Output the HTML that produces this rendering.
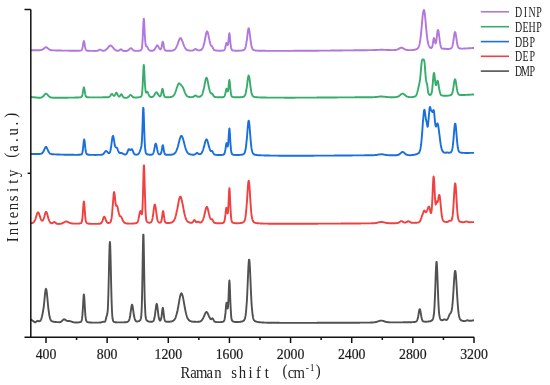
<!DOCTYPE html>
<html><head><meta charset="utf-8"><style>
html,body{margin:0;padding:0;background:#fff;}
svg{display:block;}
.tick{font-family:"Liberation Serif",serif;font-size:13.8px;fill:#1a1a1a;stroke:#1a1a1a;stroke-width:0.2px;text-anchor:middle;}
.leg{font-family:"Liberation Serif",serif;font-size:13.5px;fill:#222;}
.ttl{font-family:"Liberation Serif",serif;font-size:15.5px;fill:#222;}
</style></head><body>
<svg width="550" height="385" viewBox="0 0 550 385">
<rect width="550" height="385" fill="#fff"/>
<polyline fill="none" stroke="#515151" stroke-width="1.9" stroke-linejoin="round" points="30.7,319.4 31.0,319.6 31.3,319.8 31.6,320.0 31.9,320.3 32.2,320.5 32.5,320.7 32.9,320.9 33.2,321.1 33.5,321.3 33.8,321.5 34.1,321.8 34.4,322.0 34.7,322.2 35.0,322.4 35.3,322.4 35.6,322.2 35.9,321.9 36.2,321.7 36.5,321.5 36.8,321.2 37.1,321.0 37.4,320.8 37.7,320.9 38.1,321.0 38.4,321.1 38.7,321.2 39.0,321.3 39.3,321.4 39.6,321.2 39.9,321.1 40.2,320.8 40.5,320.5 40.8,320.0 41.1,319.3 41.4,318.5 41.7,317.4 42.0,316.3 42.3,315.0 42.6,313.6 42.9,312.1 43.2,310.2 43.6,308.0 43.9,305.4 44.2,302.4 44.5,299.3 44.8,296.1 45.1,293.2 45.4,290.9 45.7,289.3 46.0,288.8 46.3,289.4 46.6,290.9 46.9,293.3 47.2,296.3 47.5,299.5 47.8,302.8 48.1,306.0 48.4,309.0 48.8,311.6 49.1,313.8 49.4,315.6 49.7,317.1 50.0,318.3 50.3,319.2 50.6,319.8 50.9,320.3 51.2,320.7 51.5,321.0 51.8,321.2 52.1,321.3 52.4,321.4 52.7,321.5 53.0,321.6 53.3,321.7 53.6,321.8 53.9,321.8 54.3,321.8 54.6,321.9 54.9,321.9 55.2,322.0 55.5,322.0 55.8,322.0 56.1,322.0 56.4,322.1 56.7,322.1 57.0,322.1 57.3,322.1 57.6,322.1 57.9,322.1 58.2,322.1 58.5,322.1 58.8,322.2 59.1,322.2 59.5,322.2 59.8,322.1 60.1,322.1 60.4,322.0 60.7,321.9 61.0,321.8 61.3,321.6 61.6,321.3 61.9,321.0 62.2,320.7 62.5,320.4 62.8,320.1 63.1,319.8 63.4,319.6 63.7,319.4 64.0,319.3 64.3,319.3 64.6,319.4 65.0,319.6 65.3,319.8 65.6,320.0 65.9,320.2 66.2,320.5 66.5,320.6 66.8,320.8 67.1,320.9 67.4,320.9 67.7,321.0 68.0,321.0 68.3,321.0 68.6,321.0 68.9,321.0 69.2,321.0 69.5,321.0 69.8,321.1 70.2,321.2 70.5,321.3 70.8,321.4 71.1,321.5 71.4,321.6 71.7,321.7 72.0,321.8 72.3,321.9 72.6,322.0 72.9,322.1 73.2,322.2 73.5,322.3 73.8,322.3 74.1,322.4 74.4,322.4 74.7,322.4 75.0,322.5 75.3,322.5 75.7,322.5 76.0,322.5 76.3,322.5 76.6,322.5 76.9,322.5 77.2,322.5 77.5,322.5 77.8,322.5 78.1,322.4 78.4,322.4 78.7,322.4 79.0,322.3 79.3,322.3 79.6,322.2 79.9,322.2 80.2,322.1 80.5,322.0 80.9,321.8 81.2,321.5 81.5,320.9 81.8,320.0 82.1,318.2 82.4,315.4 82.7,311.4 83.0,306.2 83.3,300.7 83.6,296.2 83.9,294.4 84.2,296.2 84.5,300.7 84.8,306.2 85.1,311.4 85.4,315.4 85.7,318.2 86.0,320.0 86.4,320.9 86.7,321.5 87.0,321.8 87.3,322.0 87.6,322.1 87.9,322.2 88.2,322.2 88.5,322.3 88.8,322.4 89.1,322.4 89.4,322.4 89.7,322.5 90.0,322.5 90.3,322.5 90.6,322.5 90.9,322.5 91.2,322.5 91.6,322.6 91.9,322.6 92.2,322.6 92.5,322.6 92.8,322.6 93.1,322.6 93.4,322.6 93.7,322.6 94.0,322.6 94.3,322.6 94.6,322.6 94.9,322.6 95.2,322.6 95.5,322.6 95.8,322.6 96.1,322.6 96.4,322.6 96.7,322.6 97.1,322.6 97.4,322.6 97.7,322.6 98.0,322.6 98.3,322.6 98.6,322.6 98.9,322.6 99.2,322.6 99.5,322.5 99.8,322.5 100.1,322.5 100.4,322.5 100.7,322.5 101.0,322.4 101.3,322.3 101.6,322.2 101.9,322.1 102.3,322.0 102.6,321.9 102.9,321.8 103.2,321.8 103.5,321.8 103.8,321.9 104.1,321.9 104.4,321.9 104.7,321.8 105.0,321.6 105.3,321.1 105.6,320.3 105.9,319.1 106.2,317.7 106.5,316.5 106.8,315.6 107.1,314.9 107.4,313.3 107.8,309.6 108.1,303.1 108.4,293.5 108.7,281.2 109.0,267.5 109.3,254.7 109.6,245.3 109.9,241.9 110.2,245.4 110.5,254.7 110.8,267.6 111.1,281.4 111.4,294.0 111.7,304.1 112.0,311.3 112.3,316.0 112.6,318.8 113.0,320.4 113.3,321.2 113.6,321.6 113.9,321.9 114.2,322.0 114.5,322.1 114.8,322.1 115.1,322.2 115.4,322.2 115.7,322.3 116.0,322.3 116.3,322.3 116.6,322.3 116.9,322.4 117.2,322.4 117.5,322.4 117.8,322.4 118.1,322.4 118.5,322.4 118.8,322.4 119.1,322.4 119.4,322.4 119.7,322.4 120.0,322.4 120.3,322.4 120.6,322.4 120.9,322.4 121.2,322.4 121.5,322.4 121.8,322.4 122.1,322.4 122.4,322.4 122.7,322.4 123.0,322.4 123.3,322.4 123.7,322.4 124.0,322.4 124.3,322.3 124.6,322.3 124.9,322.3 125.2,322.3 125.5,322.2 125.8,322.2 126.1,322.2 126.4,322.1 126.7,322.1 127.0,322.0 127.3,321.9 127.6,321.8 127.9,321.7 128.2,321.4 128.5,321.1 128.8,320.6 129.2,319.9 129.5,318.9 129.8,317.6 130.1,316.0 130.4,314.0 130.7,311.8 131.0,309.6 131.3,307.5 131.6,305.8 131.9,304.8 132.2,304.8 132.5,305.7 132.8,307.4 133.1,309.5 133.4,311.7 133.7,313.9 134.0,315.8 134.4,317.4 134.7,318.7 135.0,319.7 135.3,320.3 135.6,320.8 135.9,321.1 136.2,321.3 136.5,321.4 136.8,321.5 137.1,321.5 137.4,321.5 137.7,321.4 138.0,321.4 138.3,321.3 138.6,321.2 138.9,321.1 139.2,321.0 139.5,320.8 139.9,320.5 140.2,320.2 140.5,319.7 140.8,318.8 141.1,317.3 141.4,314.3 141.7,308.6 142.0,298.8 142.3,284.3 142.6,265.9 142.9,247.3 143.2,234.8 143.5,234.8 143.8,247.3 144.1,265.9 144.4,284.3 144.7,298.8 145.1,308.6 145.4,314.3 145.7,317.3 146.0,318.8 146.3,319.7 146.6,320.2 146.9,320.5 147.2,320.8 147.5,321.0 147.8,321.2 148.1,321.3 148.4,321.4 148.7,321.5 149.0,321.6 149.3,321.6 149.6,321.7 149.9,321.7 150.2,321.7 150.6,321.7 150.9,321.7 151.2,321.7 151.5,321.7 151.8,321.7 152.1,321.7 152.4,321.6 152.7,321.5 153.0,321.3 153.3,321.1 153.6,320.7 153.9,320.0 154.2,319.1 154.5,317.8 154.8,316.0 155.1,313.8 155.4,311.3 155.8,308.6 156.1,306.2 156.4,304.4 156.7,303.8 157.0,304.4 157.3,306.2 157.6,308.5 157.9,311.2 158.2,313.7 158.5,315.9 158.8,317.6 159.1,318.9 159.4,319.8 159.7,320.3 160.0,320.6 160.3,320.6 160.6,320.2 160.9,319.5 161.3,318.1 161.6,316.2 161.9,313.6 162.2,310.9 162.5,308.7 162.8,307.8 163.1,308.7 163.4,311.0 163.7,313.8 164.0,316.3 164.3,318.4 164.6,319.8 164.9,320.7 165.2,321.1 165.5,321.4 165.8,321.6 166.1,321.6 166.5,321.7 166.8,321.7 167.1,321.8 167.4,321.8 167.7,321.8 168.0,321.8 168.3,321.8 168.6,321.8 168.9,321.8 169.2,321.7 169.5,321.7 169.8,321.7 170.1,321.7 170.4,321.6 170.7,321.6 171.0,321.5 171.3,321.5 171.6,321.4 172.0,321.3 172.3,321.2 172.6,321.1 172.9,321.0 173.2,320.8 173.5,320.6 173.8,320.3 174.1,320.0 174.4,319.7 174.7,319.2 175.0,318.7 175.3,318.1 175.6,317.4 175.9,316.6 176.2,315.6 176.5,314.6 176.8,313.4 177.2,312.1 177.5,310.7 177.8,309.1 178.1,307.5 178.4,305.8 178.7,304.0 179.0,302.3 179.3,300.6 179.6,298.9 179.9,297.4 180.2,296.0 180.5,294.9 180.8,294.0 181.1,293.5 181.4,293.3 181.7,293.5 182.0,294.0 182.3,294.9 182.7,296.0 183.0,297.4 183.3,298.9 183.6,300.6 183.9,302.3 184.2,304.0 184.5,305.8 184.8,307.5 185.1,309.1 185.4,310.6 185.7,312.1 186.0,313.4 186.3,314.6 186.6,315.6 186.9,316.6 187.2,317.4 187.5,318.1 187.9,318.7 188.2,319.2 188.5,319.7 188.8,320.0 189.1,320.3 189.4,320.6 189.7,320.8 190.0,321.0 190.3,321.1 190.6,321.2 190.9,321.3 191.2,321.4 191.5,321.5 191.8,321.5 192.1,321.6 192.4,321.6 192.7,321.7 193.0,321.7 193.4,321.7 193.7,321.7 194.0,321.8 194.3,321.8 194.6,321.8 194.9,321.8 195.2,321.8 195.5,321.8 195.8,321.8 196.1,321.9 196.4,321.9 196.7,321.9 197.0,321.9 197.3,321.9 197.6,321.8 197.9,321.8 198.2,321.8 198.6,321.8 198.9,321.8 199.2,321.7 199.5,321.7 199.8,321.6 200.1,321.5 200.4,321.4 200.7,321.2 201.0,321.0 201.3,320.8 201.6,320.5 201.9,320.2 202.2,319.8 202.5,319.3 202.8,318.8 203.1,318.2 203.4,317.6 203.7,316.9 204.1,316.2 204.4,315.4 204.7,314.7 205.0,314.0 205.3,313.3 205.6,312.8 205.9,312.4 206.2,312.1 206.5,312.0 206.8,312.1 207.1,312.4 207.4,312.8 207.7,313.3 208.0,314.0 208.3,314.7 208.6,315.4 208.9,316.1 209.3,316.9 209.6,317.5 209.9,318.1 210.2,318.6 210.5,319.0 210.8,319.2 211.1,319.3 211.4,319.2 211.7,318.9 212.0,318.6 212.3,318.3 212.6,318.3 212.9,318.6 213.2,319.2 213.5,319.8 213.8,320.4 214.1,321.0 214.4,321.4 214.8,321.6 215.1,321.8 215.4,321.9 215.7,322.0 216.0,322.0 216.3,322.1 216.6,322.1 216.9,322.1 217.2,322.1 217.5,322.1 217.8,322.1 218.1,322.1 218.4,322.1 218.7,322.1 219.0,322.1 219.3,322.1 219.6,322.1 220.0,322.1 220.3,322.1 220.6,322.1 220.9,322.1 221.2,322.0 221.5,322.0 221.8,322.0 222.1,321.9 222.4,321.9 222.7,321.8 223.0,321.7 223.3,321.6 223.6,321.4 223.9,321.1 224.2,320.6 224.5,319.7 224.8,318.2 225.1,315.8 225.5,312.7 225.8,309.0 226.1,305.4 226.4,303.0 226.7,302.7 227.0,304.4 227.3,306.8 227.6,308.5 227.9,308.0 228.2,304.7 228.5,298.4 228.8,290.4 229.1,283.3 229.4,280.4 229.7,283.7 230.0,291.4 230.3,300.3 230.7,308.1 231.0,313.8 231.3,317.3 231.6,319.3 231.9,320.3 232.2,320.8 232.5,321.1 232.8,321.3 233.1,321.5 233.4,321.6 233.7,321.7 234.0,321.8 234.3,321.8 234.6,321.9 234.9,321.9 235.2,322.0 235.5,322.0 235.8,322.0 236.2,322.0 236.5,322.0 236.8,322.0 237.1,322.0 237.4,322.0 237.7,322.0 238.0,322.0 238.3,322.0 238.6,322.0 238.9,322.0 239.2,321.9 239.5,321.9 239.8,321.9 240.1,321.8 240.4,321.8 240.7,321.8 241.0,321.7 241.4,321.6 241.7,321.6 242.0,321.5 242.3,321.4 242.6,321.3 242.9,321.2 243.2,321.0 243.5,320.8 243.8,320.6 244.1,320.3 244.4,319.8 244.7,319.2 245.0,318.4 245.3,317.1 245.6,315.4 245.9,313.0 246.2,309.8 246.5,305.8 246.9,300.7 247.2,294.7 247.5,288.0 247.8,280.9 248.1,273.8 248.4,267.4 248.7,262.5 249.0,259.7 249.3,259.8 249.6,262.5 249.9,267.4 250.2,273.8 250.5,280.9 250.8,288.1 251.1,294.8 251.4,300.8 251.7,305.8 252.1,309.9 252.4,313.1 252.7,315.5 253.0,317.2 253.3,318.5 253.6,319.3 253.9,319.9 254.2,320.4 254.5,320.7 254.8,321.0 255.1,321.1 255.4,321.3 255.7,321.4 256.0,321.5 256.3,321.6 256.6,321.7 256.9,321.8 257.2,321.9 257.6,322.0 257.9,322.0 258.2,322.1 258.5,322.1 258.8,322.2 259.1,322.2 259.4,322.2 259.7,322.3 260.0,322.3 260.3,322.3 260.6,322.4 260.9,322.4 261.2,322.4 261.5,322.4 261.8,322.4 262.1,322.5 262.4,322.5 262.8,322.5 263.1,322.5 263.4,322.5 263.7,322.5 264.0,322.6 264.3,322.6 264.6,322.6 264.9,322.6 265.2,322.6 265.5,322.6 265.8,322.6 266.1,322.6 266.4,322.6 266.7,322.7 267.0,322.7 267.3,322.7 267.6,322.7 267.9,322.7 268.3,322.7 268.6,322.7 268.9,322.7 269.2,322.7 269.5,322.7 269.8,322.7 270.1,322.7 270.4,322.7 270.7,322.7 271.0,322.7 271.3,322.8 271.6,322.8 271.9,322.8 272.2,322.8 272.5,322.8 272.8,322.8 273.1,322.8 273.5,322.8 273.8,322.8 274.1,322.8 274.4,322.8 274.7,322.8 275.0,322.8 275.3,322.8 275.6,322.8 275.9,322.8 276.2,322.8 276.5,322.8 276.8,322.8 277.1,322.8 277.4,322.8 277.7,322.8 278.0,322.8 278.3,322.8 278.6,322.8 279.0,322.8 279.3,322.8 279.6,322.9 279.9,322.9 280.2,322.9 280.5,322.9 280.8,322.9 281.1,322.9 281.4,322.9 281.7,322.9 282.0,322.9 282.3,322.9 282.6,322.9 282.9,322.9 283.2,322.9 283.5,322.9 283.8,322.9 284.2,322.9 284.5,322.9 284.8,322.9 285.1,322.9 285.4,322.9 285.7,322.9 286.0,322.9 286.3,322.9 286.6,322.9 286.9,322.9 287.2,322.9 287.5,322.9 287.8,322.9 288.1,322.9 288.4,322.9 288.7,322.9 289.0,322.9 289.3,322.9 289.7,322.9 290.0,322.9 290.3,322.9 290.6,322.9 290.9,322.9 291.2,322.9 291.5,322.9 291.8,322.9 292.1,322.9 292.4,322.9 292.7,322.9 293.0,322.9 293.3,322.9 293.6,322.9 293.9,322.9 294.2,322.9 294.5,322.9 294.9,322.9 295.2,322.9 295.5,322.9 295.8,322.9 296.1,322.9 296.4,322.9 296.7,322.9 297.0,322.9 297.3,322.9 297.6,322.9 297.9,322.9 298.2,322.9 298.5,322.9 298.8,322.9 299.1,322.9 299.4,322.9 299.7,322.9 300.0,322.9 300.4,322.9 300.7,322.9 301.0,322.9 301.3,322.9 301.6,322.9 301.9,322.9 302.2,322.9 302.5,322.9 302.8,322.9 303.1,322.9 303.4,322.9 303.7,322.9 304.0,322.9 304.3,322.9 304.6,322.9 304.9,322.9 305.2,322.9 305.6,322.9 305.9,322.9 306.2,322.9 306.5,322.9 306.8,322.9 307.1,322.9 307.4,322.9 307.7,322.9 308.0,322.9 308.3,322.9 308.6,322.9 308.9,322.9 309.2,322.9 309.5,322.9 309.8,322.9 310.1,322.9 310.4,322.9 310.7,322.9 311.1,322.9 311.4,322.9 311.7,322.9 312.0,322.9 312.3,322.9 312.6,322.9 312.9,322.9 313.2,322.9 313.5,322.9 313.8,322.9 314.1,322.9 314.4,322.9 314.7,322.9 315.0,322.9 315.3,322.9 315.6,322.9 315.9,322.9 316.3,322.9 316.6,322.9 316.9,322.8 317.2,322.8 317.5,322.8 317.8,322.8 318.1,322.8 318.4,322.8 318.7,322.8 319.0,322.8 319.3,322.8 319.6,322.8 319.9,322.8 320.2,322.8 320.5,322.8 320.8,322.8 321.1,322.8 321.4,322.8 321.8,322.8 322.1,322.8 322.4,322.8 322.7,322.8 323.0,322.8 323.3,322.8 323.6,322.8 323.9,322.8 324.2,322.8 324.5,322.8 324.8,322.8 325.1,322.8 325.4,322.8 325.7,322.8 326.0,322.8 326.3,322.8 326.6,322.8 327.0,322.8 327.3,322.8 327.6,322.8 327.9,322.8 328.2,322.8 328.5,322.8 328.8,322.8 329.1,322.8 329.4,322.8 329.7,322.8 330.0,322.8 330.3,322.8 330.6,322.8 330.9,322.8 331.2,322.8 331.5,322.8 331.8,322.8 332.1,322.8 332.5,322.8 332.8,322.8 333.1,322.8 333.4,322.8 333.7,322.8 334.0,322.8 334.3,322.8 334.6,322.8 334.9,322.8 335.2,322.8 335.5,322.8 335.8,322.8 336.1,322.8 336.4,322.8 336.7,322.8 337.0,322.8 337.3,322.8 337.7,322.8 338.0,322.8 338.3,322.8 338.6,322.8 338.9,322.8 339.2,322.8 339.5,322.8 339.8,322.8 340.1,322.8 340.4,322.7 340.7,322.7 341.0,322.7 341.3,322.7 341.6,322.7 341.9,322.7 342.2,322.7 342.5,322.7 342.8,322.7 343.2,322.7 343.5,322.7 343.8,322.7 344.1,322.7 344.4,322.7 344.7,322.7 345.0,322.7 345.3,322.7 345.6,322.7 345.9,322.7 346.2,322.7 346.5,322.7 346.8,322.7 347.1,322.7 347.4,322.7 347.7,322.7 348.0,322.7 348.4,322.7 348.7,322.7 349.0,322.7 349.3,322.7 349.6,322.7 349.9,322.7 350.2,322.7 350.5,322.7 350.8,322.7 351.1,322.7 351.4,322.7 351.7,322.7 352.0,322.7 352.3,322.7 352.6,322.7 352.9,322.7 353.2,322.7 353.5,322.7 353.9,322.7 354.2,322.7 354.5,322.7 354.8,322.7 355.1,322.7 355.4,322.7 355.7,322.7 356.0,322.7 356.3,322.7 356.6,322.7 356.9,322.7 357.2,322.7 357.5,322.7 357.8,322.7 358.1,322.7 358.4,322.7 358.7,322.7 359.1,322.7 359.4,322.7 359.7,322.7 360.0,322.6 360.3,322.6 360.6,322.6 360.9,322.6 361.2,322.6 361.5,322.6 361.8,322.6 362.1,322.6 362.4,322.6 362.7,322.6 363.0,322.6 363.3,322.6 363.6,322.6 363.9,322.6 364.2,322.6 364.6,322.6 364.9,322.6 365.2,322.6 365.5,322.6 365.8,322.6 366.1,322.6 366.4,322.6 366.7,322.6 367.0,322.6 367.3,322.6 367.6,322.6 367.9,322.6 368.2,322.6 368.5,322.6 368.8,322.6 369.1,322.6 369.4,322.6 369.8,322.6 370.1,322.6 370.4,322.5 370.7,322.5 371.0,322.5 371.3,322.5 371.6,322.5 371.9,322.5 372.2,322.5 372.5,322.5 372.8,322.5 373.1,322.4 373.4,322.4 373.7,322.4 374.0,322.4 374.3,322.3 374.6,322.3 374.9,322.2 375.3,322.2 375.6,322.1 375.9,322.0 376.2,322.0 376.5,321.9 376.8,321.8 377.1,321.7 377.4,321.6 377.7,321.5 378.0,321.4 378.3,321.3 378.6,321.2 378.9,321.1 379.2,321.0 379.5,320.9 379.8,320.8 380.1,320.7 380.5,320.7 380.8,320.6 381.1,320.6 381.4,320.6 381.7,320.6 382.0,320.7 382.3,320.7 382.6,320.8 382.9,320.9 383.2,320.9 383.5,321.0 383.8,321.1 384.1,321.2 384.4,321.4 384.7,321.5 385.0,321.6 385.3,321.7 385.6,321.7 386.0,321.8 386.3,321.9 386.6,322.0 386.9,322.0 387.2,322.1 387.5,322.1 387.8,322.2 388.1,322.2 388.4,322.3 388.7,322.3 389.0,322.3 389.3,322.3 389.6,322.4 389.9,322.4 390.2,322.4 390.5,322.4 390.8,322.4 391.2,322.4 391.5,322.4 391.8,322.4 392.1,322.4 392.4,322.4 392.7,322.4 393.0,322.4 393.3,322.4 393.6,322.4 393.9,322.4 394.2,322.4 394.5,322.4 394.8,322.4 395.1,322.4 395.4,322.4 395.7,322.4 396.0,322.4 396.3,322.4 396.7,322.4 397.0,322.4 397.3,322.4 397.6,322.4 397.9,322.4 398.2,322.4 398.5,322.4 398.8,322.4 399.1,322.4 399.4,322.4 399.7,322.4 400.0,322.4 400.3,322.4 400.6,322.4 400.9,322.4 401.2,322.4 401.5,322.4 401.9,322.4 402.2,322.4 402.5,322.4 402.8,322.4 403.1,322.4 403.4,322.3 403.7,322.3 404.0,322.3 404.3,322.3 404.6,322.3 404.9,322.3 405.2,322.3 405.5,322.3 405.8,322.3 406.1,322.3 406.4,322.3 406.7,322.3 407.0,322.3 407.4,322.3 407.7,322.3 408.0,322.3 408.3,322.3 408.6,322.3 408.9,322.3 409.2,322.3 409.5,322.2 409.8,322.2 410.1,322.2 410.4,322.2 410.7,322.2 411.0,322.2 411.3,322.2 411.6,322.2 411.9,322.2 412.2,322.1 412.6,322.1 412.9,322.1 413.2,322.1 413.5,322.1 413.8,322.0 414.1,322.0 414.4,322.0 414.7,322.0 415.0,321.9 415.3,321.9 415.6,321.8 415.9,321.7 416.2,321.5 416.5,321.3 416.8,320.9 417.1,320.3 417.4,319.5 417.7,318.4 418.1,317.0 418.4,315.3 418.7,313.4 419.0,311.5 419.3,310.0 419.6,309.1 419.9,309.1 420.2,310.0 420.5,311.5 420.8,313.3 421.1,315.2 421.4,316.9 421.7,318.3 422.0,319.4 422.3,320.2 422.6,320.8 422.9,321.1 423.3,321.3 423.6,321.5 423.9,321.6 424.2,321.6 424.5,321.6 424.8,321.7 425.1,321.7 425.4,321.7 425.7,321.7 426.0,321.7 426.3,321.7 426.6,321.7 426.9,321.6 427.2,321.6 427.5,321.6 427.8,321.6 428.1,321.6 428.4,321.5 428.8,321.5 429.1,321.4 429.4,321.4 429.7,321.3 430.0,321.2 430.3,321.2 430.6,321.1 430.9,321.0 431.2,320.8 431.5,320.7 431.8,320.5 432.1,320.3 432.4,320.0 432.7,319.5 433.0,318.8 433.3,317.7 433.6,316.0 434.0,313.5 434.3,309.7 434.6,304.6 434.9,298.1 435.2,290.2 435.5,281.6 435.8,273.1 436.1,266.1 436.4,262.0 436.7,262.0 437.0,266.1 437.3,273.1 437.6,281.5 437.9,290.1 438.2,298.0 438.5,304.5 438.8,309.6 439.1,313.3 439.5,315.8 439.8,317.5 440.1,318.6 440.4,319.2 440.7,319.7 441.0,319.9 441.3,320.1 441.6,320.2 441.9,320.3 442.2,320.3 442.5,320.2 442.8,320.1 443.1,319.9 443.4,319.7 443.7,319.6 444.0,319.5 444.3,319.4 444.7,319.4 445.0,319.6 445.3,319.7 445.6,319.8 445.9,319.9 446.2,320.0 446.5,319.9 446.8,319.8 447.1,319.6 447.4,319.2 447.7,318.7 448.0,318.2 448.3,317.5 448.6,316.8 448.9,316.0 449.2,315.3 449.5,314.6 449.8,314.0 450.2,313.5 450.5,313.1 450.8,312.7 451.1,312.2 451.4,311.4 451.7,310.2 452.0,308.5 452.3,306.2 452.6,303.1 452.9,299.4 453.2,295.0 453.5,290.2 453.8,285.1 454.1,280.3 454.4,276.0 454.7,272.7 455.0,271.0 455.4,271.1 455.7,272.9 456.0,276.2 456.3,280.7 456.6,285.7 456.9,291.0 457.2,296.1 457.5,300.8 457.8,305.0 458.1,308.6 458.4,311.5 458.7,313.9 459.0,315.7 459.3,317.1 459.6,318.1 459.9,318.8 460.2,319.4 460.5,319.8 460.9,320.0 461.2,320.3 461.5,320.4 461.8,320.6 462.1,320.7 462.4,320.8 462.7,320.9 463.0,320.9 463.3,321.0 463.6,321.0 463.9,321.1 464.2,321.1 464.5,321.1 464.8,321.1 465.1,321.0 465.4,320.9 465.7,320.8 466.1,320.7 466.4,320.6 466.7,320.4 467.0,320.3 467.3,320.3 467.6,320.3 467.9,320.4 468.2,320.5 468.5,320.6 468.8,320.7 469.1,320.8 469.4,320.8 469.7,320.8 470.0,320.8 470.3,320.8 470.6,320.8 470.9,320.8 471.2,320.7 471.6,320.7 471.9,320.6 472.2,320.6 472.5,320.5 472.8,320.5 473.1,320.4 473.4,320.4 473.7,320.3 474.0,320.3"/>
<polyline fill="none" stroke="#F14040" stroke-width="1.9" stroke-linejoin="round" points="30.7,223.2 31.0,223.2 31.3,223.2 31.6,223.1 31.9,223.1 32.2,223.0 32.5,222.9 32.9,222.8 33.2,222.6 33.5,222.4 33.8,222.1 34.1,221.7 34.4,221.3 34.7,220.7 35.0,220.1 35.3,219.3 35.6,218.5 35.9,217.5 36.2,216.5 36.5,215.5 36.8,214.6 37.1,213.7 37.4,213.0 37.7,212.6 38.1,212.4 38.4,212.5 38.7,213.0 39.0,213.6 39.3,214.5 39.6,215.4 39.9,216.4 40.2,217.3 40.5,218.2 40.8,219.0 41.1,219.7 41.4,220.2 41.7,220.5 42.0,220.7 42.3,220.7 42.6,220.6 42.9,220.2 43.2,219.7 43.6,218.9 43.9,218.1 44.2,217.1 44.5,216.0 44.8,214.9 45.1,213.8 45.4,212.9 45.7,212.2 46.0,211.8 46.3,211.9 46.6,212.3 46.9,213.0 47.2,214.0 47.5,215.1 47.8,216.3 48.1,217.4 48.4,218.5 48.8,219.5 49.1,220.4 49.4,221.1 49.7,221.7 50.0,222.2 50.3,222.6 50.6,222.8 50.9,223.0 51.2,223.2 51.5,223.3 51.8,223.3 52.1,223.3 52.4,223.2 52.7,223.0 53.0,222.8 53.3,222.6 53.6,222.3 53.9,222.1 54.3,222.0 54.6,222.0 54.9,222.2 55.2,222.5 55.5,222.7 55.8,223.0 56.1,223.3 56.4,223.5 56.7,223.7 57.0,223.8 57.3,223.9 57.6,223.9 57.9,223.9 58.2,224.0 58.5,224.0 58.8,223.9 59.1,223.9 59.5,223.9 59.8,223.9 60.1,223.8 60.4,223.8 60.7,223.7 61.0,223.7 61.3,223.6 61.6,223.5 61.9,223.4 62.2,223.3 62.5,223.2 62.8,223.0 63.1,222.9 63.4,222.7 63.7,222.5 64.0,222.4 64.3,222.2 64.6,222.0 65.0,221.8 65.3,221.7 65.6,221.6 65.9,221.5 66.2,221.5 66.5,221.5 66.8,221.6 67.1,221.6 67.4,221.8 67.7,221.9 68.0,222.0 68.3,222.2 68.6,222.4 68.9,222.5 69.2,222.6 69.5,222.8 69.8,222.9 70.2,223.0 70.5,223.1 70.8,223.2 71.1,223.3 71.4,223.3 71.7,223.4 72.0,223.5 72.3,223.5 72.6,223.5 72.9,223.6 73.2,223.6 73.5,223.6 73.8,223.6 74.1,223.6 74.4,223.6 74.7,223.6 75.0,223.6 75.3,223.6 75.7,223.6 76.0,223.6 76.3,223.6 76.6,223.6 76.9,223.6 77.2,223.6 77.5,223.6 77.8,223.6 78.1,223.6 78.4,223.6 78.7,223.6 79.0,223.5 79.3,223.5 79.6,223.4 79.9,223.4 80.2,223.3 80.5,223.2 80.9,223.1 81.2,222.9 81.5,222.4 81.8,221.7 82.1,220.3 82.4,218.1 82.7,214.9 83.0,210.8 83.3,206.4 83.6,202.8 83.9,201.4 84.2,202.8 84.5,206.4 84.8,210.8 85.1,214.9 85.4,218.1 85.7,220.4 86.0,221.7 86.4,222.5 86.7,223.0 87.0,223.2 87.3,223.3 87.6,223.4 87.9,223.5 88.2,223.6 88.5,223.6 88.8,223.7 89.1,223.7 89.4,223.7 89.7,223.8 90.0,223.8 90.3,223.8 90.6,223.8 90.9,223.8 91.2,223.9 91.6,223.9 91.9,223.9 92.2,223.9 92.5,223.9 92.8,223.9 93.1,223.9 93.4,223.9 93.7,223.9 94.0,223.9 94.3,223.9 94.6,223.9 94.9,223.9 95.2,223.9 95.5,223.9 95.8,223.9 96.1,223.9 96.4,223.9 96.7,223.9 97.1,223.9 97.4,223.9 97.7,223.9 98.0,223.8 98.3,223.8 98.6,223.8 98.9,223.8 99.2,223.8 99.5,223.7 99.8,223.7 100.1,223.6 100.4,223.5 100.7,223.4 101.0,223.1 101.3,222.9 101.6,222.4 101.9,221.9 102.3,221.2 102.6,220.4 102.9,219.5 103.2,218.6 103.5,217.7 103.8,217.1 104.1,216.7 104.4,216.6 104.7,217.0 105.0,217.7 105.3,218.5 105.6,219.4 105.9,220.2 106.2,221.0 106.5,221.6 106.8,222.1 107.1,222.5 107.4,222.7 107.8,222.9 108.1,223.0 108.4,223.0 108.7,223.0 109.0,222.9 109.3,222.9 109.6,222.7 109.9,222.6 110.2,222.4 110.5,222.0 110.8,221.4 111.1,220.6 111.4,219.3 111.7,217.4 112.0,214.7 112.3,211.4 112.6,207.4 113.0,202.9 113.3,198.5 113.6,194.8 113.9,192.5 114.2,192.0 114.5,193.4 114.8,196.1 115.1,199.2 115.4,202.0 115.7,204.1 116.0,205.4 116.3,205.9 116.6,205.9 116.9,205.8 117.2,206.0 117.5,206.8 117.8,208.1 118.1,209.7 118.5,211.5 118.8,213.0 119.1,214.3 119.4,215.2 119.7,215.8 120.0,216.1 120.3,216.2 120.6,216.3 120.9,216.5 121.2,216.8 121.5,217.3 121.8,218.0 122.1,218.7 122.4,219.4 122.7,220.1 123.0,220.8 123.3,221.3 123.7,221.8 124.0,222.2 124.3,222.6 124.6,222.8 124.9,223.0 125.2,223.1 125.5,223.2 125.8,223.3 126.1,223.4 126.4,223.4 126.7,223.5 127.0,223.5 127.3,223.5 127.6,223.5 127.9,223.5 128.2,223.5 128.5,223.6 128.8,223.6 129.2,223.6 129.5,223.6 129.8,223.6 130.1,223.6 130.4,223.6 130.7,223.6 131.0,223.6 131.3,223.6 131.6,223.6 131.9,223.6 132.2,223.5 132.5,223.5 132.8,223.5 133.1,223.5 133.4,223.5 133.7,223.5 134.0,223.5 134.4,223.4 134.7,223.4 135.0,223.4 135.3,223.3 135.6,223.3 135.9,223.2 136.2,223.1 136.5,223.0 136.8,222.9 137.1,222.6 137.4,222.3 137.7,221.7 138.0,221.0 138.3,219.9 138.6,218.6 138.9,217.0 139.2,215.3 139.5,213.6 139.9,212.1 140.2,211.2 140.5,211.0 140.8,211.5 141.1,212.6 141.4,213.6 141.7,214.3 142.0,213.8 142.3,211.3 142.6,205.8 142.9,197.0 143.2,185.4 143.5,173.4 143.8,165.4 144.1,165.5 144.4,173.8 144.7,186.1 145.1,198.3 145.4,207.9 145.7,214.3 146.0,218.1 146.3,220.1 146.6,221.1 146.9,221.6 147.2,222.0 147.5,222.2 147.8,222.3 148.1,222.5 148.4,222.6 148.7,222.6 149.0,222.7 149.3,222.7 149.6,222.7 149.9,222.7 150.2,222.6 150.6,222.5 150.9,222.3 151.2,222.1 151.5,221.7 151.8,221.0 152.1,220.2 152.4,219.0 152.7,217.4 153.0,215.5 153.3,213.3 153.6,210.9 153.9,208.5 154.2,206.5 154.5,205.0 154.8,204.5 155.1,205.0 155.4,206.5 155.8,208.5 156.1,210.9 156.4,213.3 156.7,215.5 157.0,217.4 157.3,219.0 157.6,220.2 157.9,221.1 158.2,221.7 158.5,222.1 158.8,222.4 159.1,222.5 159.4,222.6 159.7,222.7 160.0,222.7 160.3,222.6 160.6,222.4 160.9,222.0 161.3,221.3 161.6,220.1 161.9,218.4 162.2,216.2 162.5,213.8 162.8,211.9 163.1,211.1 163.4,211.9 163.7,213.8 164.0,216.2 164.3,218.4 164.6,220.2 164.9,221.4 165.2,222.1 165.5,222.5 165.8,222.7 166.1,222.9 166.5,222.9 166.8,223.0 167.1,223.0 167.4,223.0 167.7,223.0 168.0,223.0 168.3,223.0 168.6,223.0 168.9,223.0 169.2,223.0 169.5,222.9 169.8,222.9 170.1,222.8 170.4,222.8 170.7,222.7 171.0,222.7 171.3,222.6 171.6,222.5 172.0,222.4 172.3,222.2 172.6,222.0 172.9,221.8 173.2,221.5 173.5,221.2 173.8,220.7 174.1,220.3 174.4,219.7 174.7,219.0 175.0,218.2 175.3,217.3 175.6,216.3 175.9,215.2 176.2,213.9 176.5,212.5 176.8,211.0 177.2,209.5 177.5,207.8 177.8,206.2 178.1,204.5 178.4,202.9 178.7,201.3 179.0,199.9 179.3,198.7 179.6,197.7 179.9,197.0 180.2,196.6 180.5,196.6 180.8,197.0 181.1,197.7 181.4,198.7 181.7,199.9 182.0,201.3 182.3,202.8 182.7,204.5 183.0,206.1 183.3,207.8 183.6,209.4 183.9,211.0 184.2,212.5 184.5,213.9 184.8,215.1 185.1,216.3 185.4,217.3 185.7,218.2 186.0,219.0 186.3,219.6 186.6,220.2 186.9,220.7 187.2,221.1 187.5,221.4 187.9,221.7 188.2,221.9 188.5,222.1 188.8,222.3 189.1,222.4 189.4,222.5 189.7,222.6 190.0,222.7 190.3,222.7 190.6,222.7 190.9,222.8 191.2,222.8 191.5,222.8 191.8,222.8 192.1,222.7 192.4,222.5 192.7,222.3 193.0,221.9 193.4,221.4 193.7,220.8 194.0,220.3 194.3,220.0 194.6,220.0 194.9,220.4 195.2,220.8 195.5,221.4 195.8,221.8 196.1,222.1 196.4,222.3 196.7,222.3 197.0,222.2 197.3,222.0 197.6,221.8 197.9,221.6 198.2,221.6 198.6,221.7 198.9,222.0 199.2,222.2 199.5,222.4 199.8,222.5 200.1,222.6 200.4,222.6 200.7,222.5 201.0,222.4 201.3,222.2 201.6,222.0 201.9,221.7 202.2,221.3 202.5,220.7 202.8,220.1 203.1,219.4 203.4,218.5 203.7,217.5 204.1,216.3 204.4,215.0 204.7,213.7 205.0,212.3 205.3,211.0 205.6,209.7 205.9,208.6 206.2,207.7 206.5,207.1 206.8,206.9 207.1,207.1 207.4,207.7 207.7,208.5 208.0,209.7 208.3,210.9 208.6,212.3 208.9,213.7 209.3,215.0 209.6,216.2 209.9,217.2 210.2,218.1 210.5,218.7 210.8,219.1 211.1,219.3 211.4,219.2 211.7,219.2 212.0,219.2 212.3,219.5 212.6,220.0 212.9,220.6 213.2,221.2 213.5,221.8 213.8,222.2 214.1,222.6 214.4,222.8 214.8,222.9 215.1,223.0 215.4,223.1 215.7,223.1 216.0,223.2 216.3,223.2 216.6,223.2 216.9,223.2 217.2,223.2 217.5,223.2 217.8,223.3 218.1,223.3 218.4,223.3 218.7,223.3 219.0,223.3 219.3,223.3 219.6,223.3 220.0,223.3 220.3,223.2 220.6,223.2 220.9,223.2 221.2,223.2 221.5,223.2 221.8,223.1 222.1,223.1 222.4,223.1 222.7,223.0 223.0,222.9 223.3,222.8 223.6,222.6 223.9,222.3 224.2,221.7 224.5,220.8 224.8,219.3 225.1,217.0 225.5,214.2 225.8,211.2 226.1,208.7 226.4,207.6 226.7,208.3 227.0,210.2 227.3,212.3 227.6,213.4 227.9,212.6 228.2,209.4 228.5,203.8 228.8,196.8 229.1,190.7 229.4,188.2 229.7,190.9 230.0,197.4 230.3,204.9 230.7,211.5 231.0,216.3 231.3,219.2 231.6,220.9 231.9,221.7 232.2,222.2 232.5,222.5 232.8,222.6 233.1,222.8 233.4,222.9 233.7,222.9 234.0,223.0 234.3,223.0 234.6,223.1 234.9,223.1 235.2,223.1 235.5,223.2 235.8,223.2 236.2,223.2 236.5,223.2 236.8,223.2 237.1,223.2 237.4,223.2 237.7,223.2 238.0,223.2 238.3,223.2 238.6,223.2 238.9,223.2 239.2,223.1 239.5,223.1 239.8,223.1 240.1,223.1 240.4,223.0 240.7,223.0 241.0,223.0 241.4,222.9 241.7,222.8 242.0,222.8 242.3,222.7 242.6,222.6 242.9,222.5 243.2,222.4 243.5,222.2 243.8,221.9 244.1,221.6 244.4,221.1 244.7,220.4 245.0,219.4 245.3,218.0 245.6,216.1 245.9,213.7 246.2,210.6 246.5,206.8 246.9,202.5 247.2,197.7 247.5,192.8 247.8,188.2 248.1,184.3 248.4,181.6 248.7,180.7 249.0,181.6 249.3,184.3 249.6,188.2 249.9,192.9 250.2,197.8 250.5,202.5 250.8,206.8 251.1,210.6 251.4,213.7 251.7,216.1 252.1,218.0 252.4,219.4 252.7,220.4 253.0,221.1 253.3,221.6 253.6,222.0 253.9,222.2 254.2,222.4 254.5,222.6 254.8,222.7 255.1,222.8 255.4,222.9 255.7,222.9 256.0,223.0 256.3,223.1 256.6,223.1 256.9,223.1 257.2,223.2 257.6,223.2 257.9,223.3 258.2,223.3 258.5,223.3 258.8,223.3 259.1,223.4 259.4,223.4 259.7,223.4 260.0,223.4 260.3,223.4 260.6,223.5 260.9,223.5 261.2,223.5 261.5,223.5 261.8,223.5 262.1,223.5 262.4,223.5 262.8,223.5 263.1,223.6 263.4,223.6 263.7,223.6 264.0,223.6 264.3,223.6 264.6,223.6 264.9,223.6 265.2,223.6 265.5,223.6 265.8,223.6 266.1,223.6 266.4,223.6 266.7,223.6 267.0,223.6 267.3,223.6 267.6,223.6 267.9,223.6 268.3,223.7 268.6,223.7 268.9,223.7 269.2,223.7 269.5,223.7 269.8,223.7 270.1,223.7 270.4,223.7 270.7,223.7 271.0,223.7 271.3,223.7 271.6,223.7 271.9,223.7 272.2,223.7 272.5,223.7 272.8,223.7 273.1,223.7 273.5,223.7 273.8,223.7 274.1,223.7 274.4,223.7 274.7,223.7 275.0,223.7 275.3,223.7 275.6,223.7 275.9,223.7 276.2,223.7 276.5,223.7 276.8,223.7 277.1,223.7 277.4,223.7 277.7,223.7 278.0,223.7 278.3,223.7 278.6,223.7 279.0,223.7 279.3,223.7 279.6,223.7 279.9,223.7 280.2,223.7 280.5,223.7 280.8,223.7 281.1,223.7 281.4,223.7 281.7,223.7 282.0,223.7 282.3,223.7 282.6,223.7 282.9,223.7 283.2,223.7 283.5,223.7 283.8,223.7 284.2,223.7 284.5,223.7 284.8,223.7 285.1,223.7 285.4,223.7 285.7,223.7 286.0,223.7 286.3,223.7 286.6,223.7 286.9,223.7 287.2,223.7 287.5,223.7 287.8,223.7 288.1,223.7 288.4,223.7 288.7,223.7 289.0,223.7 289.3,223.7 289.7,223.7 290.0,223.7 290.3,223.7 290.6,223.7 290.9,223.7 291.2,223.7 291.5,223.7 291.8,223.7 292.1,223.7 292.4,223.7 292.7,223.7 293.0,223.7 293.3,223.7 293.6,223.7 293.9,223.7 294.2,223.7 294.5,223.7 294.9,223.7 295.2,223.7 295.5,223.7 295.8,223.7 296.1,223.7 296.4,223.7 296.7,223.7 297.0,223.7 297.3,223.7 297.6,223.7 297.9,223.7 298.2,223.7 298.5,223.7 298.8,223.7 299.1,223.7 299.4,223.7 299.7,223.7 300.0,223.7 300.4,223.7 300.7,223.7 301.0,223.7 301.3,223.7 301.6,223.7 301.9,223.7 302.2,223.7 302.5,223.7 302.8,223.7 303.1,223.7 303.4,223.7 303.7,223.7 304.0,223.7 304.3,223.7 304.6,223.7 304.9,223.7 305.2,223.7 305.6,223.7 305.9,223.7 306.2,223.7 306.5,223.7 306.8,223.7 307.1,223.7 307.4,223.7 307.7,223.7 308.0,223.7 308.3,223.7 308.6,223.7 308.9,223.7 309.2,223.7 309.5,223.7 309.8,223.7 310.1,223.7 310.4,223.7 310.7,223.7 311.1,223.7 311.4,223.7 311.7,223.7 312.0,223.7 312.3,223.7 312.6,223.7 312.9,223.7 313.2,223.7 313.5,223.7 313.8,223.7 314.1,223.7 314.4,223.7 314.7,223.7 315.0,223.7 315.3,223.7 315.6,223.7 315.9,223.7 316.3,223.7 316.6,223.7 316.9,223.7 317.2,223.7 317.5,223.7 317.8,223.7 318.1,223.6 318.4,223.6 318.7,223.6 319.0,223.6 319.3,223.6 319.6,223.6 319.9,223.6 320.2,223.6 320.5,223.6 320.8,223.6 321.1,223.6 321.4,223.6 321.8,223.6 322.1,223.6 322.4,223.6 322.7,223.6 323.0,223.6 323.3,223.6 323.6,223.6 323.9,223.6 324.2,223.6 324.5,223.6 324.8,223.6 325.1,223.6 325.4,223.6 325.7,223.6 326.0,223.6 326.3,223.6 326.6,223.6 327.0,223.6 327.3,223.6 327.6,223.6 327.9,223.6 328.2,223.6 328.5,223.6 328.8,223.6 329.1,223.6 329.4,223.6 329.7,223.6 330.0,223.6 330.3,223.6 330.6,223.6 330.9,223.6 331.2,223.6 331.5,223.6 331.8,223.6 332.1,223.6 332.5,223.6 332.8,223.6 333.1,223.6 333.4,223.6 333.7,223.6 334.0,223.6 334.3,223.6 334.6,223.6 334.9,223.6 335.2,223.6 335.5,223.6 335.8,223.6 336.1,223.6 336.4,223.6 336.7,223.6 337.0,223.6 337.3,223.6 337.7,223.6 338.0,223.6 338.3,223.6 338.6,223.6 338.9,223.6 339.2,223.6 339.5,223.6 339.8,223.6 340.1,223.6 340.4,223.6 340.7,223.6 341.0,223.6 341.3,223.5 341.6,223.5 341.9,223.5 342.2,223.5 342.5,223.5 342.8,223.5 343.2,223.5 343.5,223.5 343.8,223.5 344.1,223.5 344.4,223.5 344.7,223.5 345.0,223.5 345.3,223.5 345.6,223.5 345.9,223.5 346.2,223.5 346.5,223.5 346.8,223.5 347.1,223.5 347.4,223.5 347.7,223.5 348.0,223.5 348.4,223.5 348.7,223.5 349.0,223.5 349.3,223.5 349.6,223.5 349.9,223.5 350.2,223.5 350.5,223.5 350.8,223.5 351.1,223.5 351.4,223.5 351.7,223.5 352.0,223.5 352.3,223.5 352.6,223.5 352.9,223.5 353.2,223.5 353.5,223.5 353.9,223.5 354.2,223.5 354.5,223.5 354.8,223.5 355.1,223.5 355.4,223.5 355.7,223.5 356.0,223.5 356.3,223.5 356.6,223.5 356.9,223.5 357.2,223.5 357.5,223.5 357.8,223.5 358.1,223.5 358.4,223.5 358.7,223.5 359.1,223.5 359.4,223.5 359.7,223.5 360.0,223.5 360.3,223.5 360.6,223.5 360.9,223.4 361.2,223.4 361.5,223.4 361.8,223.4 362.1,223.4 362.4,223.4 362.7,223.4 363.0,223.4 363.3,223.4 363.6,223.4 363.9,223.4 364.2,223.4 364.6,223.4 364.9,223.4 365.2,223.4 365.5,223.4 365.8,223.4 366.1,223.4 366.4,223.4 366.7,223.4 367.0,223.4 367.3,223.4 367.6,223.4 367.9,223.4 368.2,223.4 368.5,223.4 368.8,223.4 369.1,223.4 369.4,223.4 369.8,223.4 370.1,223.4 370.4,223.4 370.7,223.4 371.0,223.4 371.3,223.4 371.6,223.3 371.9,223.3 372.2,223.3 372.5,223.3 372.8,223.3 373.1,223.3 373.4,223.3 373.7,223.2 374.0,223.2 374.3,223.2 374.6,223.2 374.9,223.1 375.3,223.1 375.6,223.1 375.9,223.0 376.2,223.0 376.5,222.9 376.8,222.8 377.1,222.8 377.4,222.7 377.7,222.6 378.0,222.6 378.3,222.5 378.6,222.4 378.9,222.3 379.2,222.3 379.5,222.2 379.8,222.1 380.1,222.1 380.5,222.0 380.8,222.0 381.1,222.0 381.4,222.0 381.7,222.0 382.0,222.0 382.3,222.1 382.6,222.1 382.9,222.2 383.2,222.2 383.5,222.3 383.8,222.4 384.1,222.4 384.4,222.5 384.7,222.6 385.0,222.6 385.3,222.7 385.6,222.8 386.0,222.8 386.3,222.9 386.6,222.9 386.9,223.0 387.2,223.0 387.5,223.0 387.8,223.1 388.1,223.1 388.4,223.1 388.7,223.1 389.0,223.2 389.3,223.2 389.6,223.2 389.9,223.2 390.2,223.2 390.5,223.2 390.8,223.2 391.2,223.2 391.5,223.2 391.8,223.2 392.1,223.2 392.4,223.2 392.7,223.2 393.0,223.2 393.3,223.2 393.6,223.2 393.9,223.2 394.2,223.2 394.5,223.2 394.8,223.2 395.1,223.2 395.4,223.2 395.7,223.2 396.0,223.1 396.3,223.1 396.7,223.1 397.0,223.1 397.3,223.0 397.6,223.0 397.9,222.9 398.2,222.8 398.5,222.7 398.8,222.6 399.1,222.4 399.4,222.2 399.7,222.0 400.0,221.8 400.3,221.5 400.6,221.3 400.9,221.2 401.2,221.1 401.5,221.1 401.9,221.2 402.2,221.3 402.5,221.5 402.8,221.7 403.1,221.9 403.4,222.1 403.7,222.3 404.0,222.4 404.3,222.5 404.6,222.6 404.9,222.6 405.2,222.6 405.5,222.5 405.8,222.4 406.1,222.3 406.4,222.1 406.7,221.9 407.0,221.8 407.4,221.6 407.7,221.4 408.0,221.3 408.3,221.3 408.6,221.3 408.9,221.4 409.2,221.6 409.5,221.7 409.8,221.9 410.1,222.1 410.4,222.3 410.7,222.4 411.0,222.6 411.3,222.7 411.6,222.7 411.9,222.8 412.2,222.8 412.6,222.8 412.9,222.9 413.2,222.9 413.5,222.9 413.8,222.9 414.1,222.9 414.4,222.9 414.7,222.8 415.0,222.8 415.3,222.8 415.6,222.8 415.9,222.8 416.2,222.8 416.5,222.7 416.8,222.7 417.1,222.7 417.4,222.6 417.7,222.6 418.1,222.5 418.4,222.4 418.7,222.3 419.0,222.2 419.3,222.0 419.6,221.7 419.9,221.3 420.2,220.8 420.5,220.2 420.8,219.4 421.1,218.6 421.4,217.8 421.7,216.9 422.0,216.0 422.3,215.2 422.6,214.3 422.9,213.5 423.3,212.5 423.6,211.7 423.9,211.0 424.2,210.5 424.5,210.6 424.8,210.9 425.1,211.5 425.4,212.0 425.7,212.3 426.0,212.2 426.3,211.9 426.6,211.5 426.9,211.0 427.2,210.4 427.5,209.7 427.8,208.8 428.1,207.9 428.4,207.1 428.8,206.6 429.1,206.7 429.4,207.4 429.7,208.6 430.0,210.0 430.3,211.4 430.6,212.5 430.9,213.1 431.2,212.9 431.5,211.5 431.8,208.6 432.1,204.1 432.4,198.0 432.7,190.9 433.0,183.9 433.3,178.6 433.6,176.5 434.0,178.4 434.3,183.6 434.6,190.2 434.9,196.5 435.2,201.4 435.5,204.0 435.8,204.5 436.1,203.4 436.4,202.0 436.7,201.3 437.0,201.6 437.3,202.2 437.6,202.2 437.9,201.3 438.2,199.7 438.5,197.7 438.8,195.9 439.1,195.0 439.5,195.2 439.8,196.6 440.1,199.0 440.4,202.0 440.7,205.2 441.0,208.5 441.3,211.4 441.6,214.0 441.9,216.1 442.2,217.7 442.5,219.0 442.8,219.9 443.1,220.5 443.4,220.9 443.7,221.3 444.0,221.5 444.3,221.6 444.7,221.7 445.0,221.8 445.3,221.9 445.6,221.9 445.9,222.0 446.2,222.0 446.5,222.0 446.8,222.0 447.1,222.0 447.4,221.9 447.7,221.9 448.0,221.7 448.3,221.6 448.6,221.3 448.9,221.1 449.2,220.8 449.5,220.7 449.8,220.6 450.2,220.6 450.5,220.7 450.8,220.7 451.1,220.7 451.4,220.4 451.7,220.0 452.0,219.1 452.3,217.8 452.6,215.9 452.9,213.3 453.2,209.7 453.5,205.4 453.8,200.4 454.1,195.1 454.4,190.0 454.7,185.8 455.0,183.5 455.4,183.5 455.7,185.9 456.0,190.0 456.3,195.1 456.6,200.5 456.9,205.5 457.2,209.8 457.5,213.4 457.8,216.1 458.1,218.0 458.4,219.3 458.7,220.3 459.0,220.8 459.3,221.2 459.6,221.5 459.9,221.6 460.2,221.8 460.5,221.9 460.9,221.9 461.2,222.0 461.5,222.1 461.8,222.1 462.1,222.1 462.4,222.2 462.7,222.2 463.0,222.2 463.3,222.2 463.6,222.2 463.9,222.1 464.2,222.1 464.5,222.0 464.8,221.9 465.1,221.8 465.4,221.7 465.7,221.6 466.1,221.5 466.4,221.5 466.7,221.5 467.0,221.6 467.3,221.7 467.6,221.8 467.9,221.9 468.2,222.0 468.5,222.1 468.8,222.1 469.1,222.2 469.4,222.2 469.7,222.2 470.0,222.2 470.3,222.2 470.6,222.2 470.9,222.2 471.2,222.2 471.6,222.1 471.9,222.1 472.2,222.1 472.5,222.1 472.8,222.1 473.1,222.1 473.4,222.1 473.7,222.1 474.0,222.1"/>
<polyline fill="none" stroke="#1A6FDF" stroke-width="1.9" stroke-linejoin="round" points="30.7,153.9 31.0,153.9 31.3,154.0 31.6,154.0 31.9,154.0 32.2,154.0 32.5,154.0 32.9,154.0 33.2,154.0 33.5,154.0 33.8,154.0 34.1,154.0 34.4,154.0 34.7,154.0 35.0,154.0 35.3,154.0 35.6,154.0 35.9,154.0 36.2,154.0 36.5,154.0 36.8,154.0 37.1,154.0 37.4,154.0 37.7,154.0 38.1,154.0 38.4,154.0 38.7,154.0 39.0,154.0 39.3,154.0 39.6,154.0 39.9,153.9 40.2,153.9 40.5,153.9 40.8,153.8 41.1,153.7 41.4,153.6 41.7,153.5 42.0,153.3 42.3,153.1 42.6,152.7 42.9,152.3 43.2,151.9 43.6,151.3 43.9,150.6 44.2,150.0 44.5,149.2 44.8,148.5 45.1,147.9 45.4,147.4 45.7,147.0 46.0,146.9 46.3,147.0 46.6,147.4 46.9,147.9 47.2,148.6 47.5,149.3 47.8,150.0 48.1,150.7 48.4,151.4 48.8,152.0 49.1,152.5 49.4,152.9 49.7,153.2 50.0,153.5 50.3,153.7 50.6,153.8 50.9,153.9 51.2,154.0 51.5,154.1 51.8,154.2 52.1,154.2 52.4,154.2 52.7,154.3 53.0,154.3 53.3,154.3 53.6,154.3 53.9,154.3 54.3,154.4 54.6,154.4 54.9,154.4 55.2,154.4 55.5,154.4 55.8,154.4 56.1,154.4 56.4,154.4 56.7,154.5 57.0,154.5 57.3,154.5 57.6,154.5 57.9,154.5 58.2,154.5 58.5,154.5 58.8,154.5 59.1,154.5 59.5,154.5 59.8,154.6 60.1,154.6 60.4,154.6 60.7,154.6 61.0,154.6 61.3,154.6 61.6,154.6 61.9,154.6 62.2,154.6 62.5,154.6 62.8,154.6 63.1,154.6 63.4,154.6 63.7,154.7 64.0,154.7 64.3,154.7 64.6,154.7 65.0,154.7 65.3,154.7 65.6,154.7 65.9,154.7 66.2,154.7 66.5,154.7 66.8,154.7 67.1,154.7 67.4,154.7 67.7,154.7 68.0,154.7 68.3,154.8 68.6,154.8 68.9,154.8 69.2,154.8 69.5,154.8 69.8,154.8 70.2,154.8 70.5,154.8 70.8,154.8 71.1,154.8 71.4,154.8 71.7,154.8 72.0,154.8 72.3,154.8 72.6,154.8 72.9,154.8 73.2,154.8 73.5,154.8 73.8,154.8 74.1,154.8 74.4,154.9 74.7,154.9 75.0,154.9 75.3,154.9 75.7,154.9 76.0,154.9 76.3,154.9 76.6,154.9 76.9,154.9 77.2,154.9 77.5,154.8 77.8,154.8 78.1,154.8 78.4,154.8 78.7,154.8 79.0,154.8 79.3,154.8 79.6,154.7 79.9,154.7 80.2,154.7 80.5,154.6 80.9,154.5 81.2,154.4 81.5,154.3 81.8,154.0 82.1,153.5 82.4,152.5 82.7,151.0 83.0,148.7 83.3,145.9 83.6,142.9 83.9,140.4 84.2,139.4 84.5,140.4 84.8,142.9 85.1,145.9 85.4,148.7 85.7,151.0 86.0,152.5 86.4,153.5 86.7,154.0 87.0,154.3 87.3,154.5 87.6,154.6 87.9,154.6 88.2,154.7 88.5,154.7 88.8,154.8 89.1,154.8 89.4,154.8 89.7,154.8 90.0,154.9 90.3,154.9 90.6,154.9 90.9,154.9 91.2,154.9 91.6,154.9 91.9,154.9 92.2,154.9 92.5,154.9 92.8,154.9 93.1,154.9 93.4,154.9 93.7,154.9 94.0,154.9 94.3,154.9 94.6,154.9 94.9,155.0 95.2,155.0 95.5,155.0 95.8,155.0 96.1,154.9 96.4,154.9 96.7,154.9 97.1,154.9 97.4,154.9 97.7,154.9 98.0,154.9 98.3,154.9 98.6,154.9 98.9,154.9 99.2,154.9 99.5,154.9 99.8,154.9 100.1,154.9 100.4,154.9 100.7,154.8 101.0,154.8 101.3,154.8 101.6,154.7 101.9,154.7 102.3,154.6 102.6,154.4 102.9,154.3 103.2,154.1 103.5,153.8 103.8,153.5 104.1,153.1 104.4,152.7 104.7,152.3 105.0,151.9 105.3,151.5 105.6,151.2 105.9,151.0 106.2,151.0 106.5,151.1 106.8,151.4 107.1,151.7 107.4,152.0 107.8,152.4 108.1,152.7 108.4,152.9 108.7,153.1 109.0,153.2 109.3,153.1 109.6,152.8 109.9,152.3 110.2,151.5 110.5,150.3 110.8,148.8 111.1,146.9 111.4,144.7 111.7,142.3 112.0,140.0 112.3,137.9 112.6,136.5 113.0,135.9 113.3,136.3 113.6,137.6 113.9,139.4 114.2,141.5 114.5,143.4 114.8,145.1 115.1,146.3 115.4,147.0 115.7,147.3 116.0,147.4 116.3,147.4 116.6,147.4 116.9,147.7 117.2,148.2 117.5,148.9 117.8,149.8 118.1,150.6 118.5,151.4 118.8,152.0 119.1,152.5 119.4,152.8 119.7,153.0 120.0,153.0 120.3,153.0 120.6,153.0 120.9,153.0 121.2,153.0 121.5,153.0 121.8,153.1 122.1,153.2 122.4,153.4 122.7,153.6 123.0,153.7 123.3,153.9 123.7,154.1 124.0,154.2 124.3,154.3 124.6,154.4 124.9,154.5 125.2,154.5 125.5,154.5 125.8,154.4 126.1,154.2 126.4,154.0 126.7,153.6 127.0,153.1 127.3,152.4 127.6,151.6 127.9,150.8 128.2,150.1 128.5,149.5 128.8,149.2 129.2,149.2 129.5,149.4 129.8,149.8 130.1,150.0 130.4,150.1 130.7,150.0 131.0,149.8 131.3,149.4 131.6,149.2 131.9,149.2 132.2,149.5 132.5,150.1 132.8,150.8 133.1,151.7 133.4,152.4 133.7,153.1 134.0,153.6 134.4,154.0 134.7,154.3 135.0,154.5 135.3,154.6 135.6,154.6 135.9,154.7 136.2,154.7 136.5,154.7 136.8,154.6 137.1,154.6 137.4,154.5 137.7,154.4 138.0,154.3 138.3,154.1 138.6,153.8 138.9,153.4 139.2,152.8 139.5,152.1 139.9,151.3 140.2,150.4 140.5,149.5 140.8,148.6 141.1,147.6 141.4,146.2 141.7,143.6 142.0,139.1 142.3,132.2 142.6,123.2 142.9,114.0 143.2,107.8 143.5,108.2 143.8,115.0 144.1,125.0 144.4,134.8 144.7,142.5 145.1,147.7 145.4,150.8 145.7,152.4 146.0,153.2 146.3,153.7 146.6,153.9 146.9,154.1 147.2,154.3 147.5,154.4 147.8,154.5 148.1,154.5 148.4,154.6 148.7,154.6 149.0,154.7 149.3,154.7 149.6,154.7 149.9,154.7 150.2,154.7 150.6,154.7 150.9,154.7 151.2,154.7 151.5,154.7 151.8,154.6 152.1,154.5 152.4,154.4 152.7,154.1 153.0,153.7 153.3,153.1 153.6,152.3 153.9,151.2 154.2,149.8 154.5,148.2 154.8,146.6 155.1,145.1 155.4,144.0 155.8,143.6 156.1,144.0 156.4,145.1 156.7,146.6 157.0,148.2 157.3,149.8 157.6,151.2 157.9,152.3 158.2,153.1 158.5,153.7 158.8,154.0 159.1,154.3 159.4,154.4 159.7,154.4 160.0,154.4 160.3,154.2 160.6,153.9 160.9,153.4 161.3,152.4 161.6,151.0 161.9,149.3 162.2,147.4 162.5,145.8 162.8,145.2 163.1,145.8 163.4,147.4 163.7,149.3 164.0,151.1 164.3,152.5 164.6,153.5 164.9,154.1 165.2,154.4 165.5,154.6 165.8,154.7 166.1,154.7 166.5,154.8 166.8,154.8 167.1,154.8 167.4,154.8 167.7,154.8 168.0,154.9 168.3,154.9 168.6,154.8 168.9,154.8 169.2,154.8 169.5,154.8 169.8,154.8 170.1,154.8 170.4,154.8 170.7,154.7 171.0,154.7 171.3,154.7 171.6,154.6 172.0,154.6 172.3,154.5 172.6,154.5 172.9,154.4 173.2,154.3 173.5,154.2 173.8,154.0 174.1,153.8 174.4,153.6 174.7,153.3 175.0,153.0 175.3,152.6 175.6,152.2 175.9,151.7 176.2,151.1 176.5,150.4 176.8,149.6 177.2,148.7 177.5,147.8 177.8,146.8 178.1,145.7 178.4,144.5 178.7,143.3 179.0,142.1 179.3,141.0 179.6,139.8 179.9,138.7 180.2,137.8 180.5,137.0 180.8,136.4 181.1,136.0 181.4,135.9 181.7,136.0 182.0,136.4 182.3,137.0 182.7,137.8 183.0,138.7 183.3,139.8 183.6,140.9 183.9,142.1 184.2,143.3 184.5,144.5 184.8,145.7 185.1,146.8 185.4,147.8 185.7,148.7 186.0,149.6 186.3,150.4 186.6,151.0 186.9,151.6 187.2,152.2 187.5,152.6 187.9,153.0 188.2,153.3 188.5,153.6 188.8,153.8 189.1,154.0 189.4,154.1 189.7,154.2 190.0,154.3 190.3,154.4 190.6,154.5 190.9,154.5 191.2,154.6 191.5,154.6 191.8,154.6 192.1,154.7 192.4,154.7 192.7,154.7 193.0,154.7 193.4,154.7 193.7,154.7 194.0,154.7 194.3,154.6 194.6,154.5 194.9,154.4 195.2,154.2 195.5,154.0 195.8,153.8 196.1,153.5 196.4,153.3 196.7,153.1 197.0,153.0 197.3,153.0 197.6,153.2 197.9,153.4 198.2,153.6 198.6,153.9 198.9,154.0 199.2,154.1 199.5,154.2 199.8,154.2 200.1,154.2 200.4,154.1 200.7,153.9 201.0,153.7 201.3,153.4 201.6,153.0 201.9,152.5 202.2,152.0 202.5,151.3 202.8,150.6 203.1,149.7 203.4,148.7 203.7,147.6 204.1,146.4 204.4,145.2 204.7,144.0 205.0,142.8 205.3,141.7 205.6,140.8 205.9,140.0 206.2,139.6 206.5,139.4 206.8,139.6 207.1,140.0 207.4,140.8 207.7,141.7 208.0,142.8 208.3,144.0 208.6,145.2 208.9,146.4 209.3,147.5 209.6,148.6 209.9,149.4 210.2,150.2 210.5,150.7 210.8,151.0 211.1,151.1 211.4,151.0 211.7,150.9 212.0,150.9 212.3,151.2 212.6,151.6 212.9,152.3 213.2,152.9 213.5,153.5 213.8,153.9 214.1,154.3 214.4,154.5 214.8,154.6 215.1,154.7 215.4,154.8 215.7,154.8 216.0,154.9 216.3,154.9 216.6,154.9 216.9,154.9 217.2,155.0 217.5,155.0 217.8,155.0 218.1,155.0 218.4,155.0 218.7,155.0 219.0,155.0 219.3,155.0 219.6,155.0 220.0,155.0 220.3,155.0 220.6,155.0 220.9,155.0 221.2,155.0 221.5,155.0 221.8,154.9 222.1,154.9 222.4,154.9 222.7,154.8 223.0,154.8 223.3,154.7 223.6,154.6 223.9,154.4 224.2,154.1 224.5,153.5 224.8,152.6 225.1,151.1 225.5,149.2 225.8,146.9 226.1,144.7 226.4,143.2 226.7,143.0 227.0,144.0 227.3,145.5 227.6,146.5 227.9,146.2 228.2,144.0 228.5,139.9 228.8,134.8 229.1,130.2 229.4,128.4 229.7,130.5 230.0,135.4 230.3,141.1 230.7,146.1 231.0,149.7 231.3,152.0 231.6,153.2 231.9,153.9 232.2,154.2 232.5,154.4 232.8,154.6 233.1,154.7 233.4,154.7 233.7,154.8 234.0,154.9 234.3,154.9 234.6,154.9 234.9,154.9 235.2,155.0 235.5,155.0 235.8,155.0 236.2,155.0 236.5,155.0 236.8,155.0 237.1,155.0 237.4,155.0 237.7,155.0 238.0,155.0 238.3,155.0 238.6,155.0 238.9,155.0 239.2,155.0 239.5,154.9 239.8,154.9 240.1,154.9 240.4,154.9 240.7,154.8 241.0,154.8 241.4,154.8 241.7,154.7 242.0,154.7 242.3,154.6 242.6,154.5 242.9,154.4 243.2,154.3 243.5,154.2 243.8,154.0 244.1,153.7 244.4,153.3 244.7,152.7 245.0,151.9 245.3,150.8 245.6,149.3 245.9,147.3 246.2,144.8 246.5,141.8 246.9,138.3 247.2,134.5 247.5,130.5 247.8,126.8 248.1,123.6 248.4,121.5 248.7,120.7 249.0,121.5 249.3,123.6 249.6,126.8 249.9,130.5 250.2,134.5 250.5,138.3 250.8,141.8 251.1,144.9 251.4,147.4 251.7,149.4 252.1,150.9 252.4,152.0 252.7,152.8 253.0,153.4 253.3,153.8 253.6,154.1 253.9,154.3 254.2,154.4 254.5,154.6 254.8,154.7 255.1,154.7 255.4,154.8 255.7,154.9 256.0,154.9 256.3,155.0 256.6,155.0 256.9,155.0 257.2,155.1 257.6,155.1 257.9,155.1 258.2,155.2 258.5,155.2 258.8,155.2 259.1,155.2 259.4,155.3 259.7,155.3 260.0,155.3 260.3,155.3 260.6,155.3 260.9,155.3 261.2,155.4 261.5,155.4 261.8,155.4 262.1,155.4 262.4,155.4 262.8,155.4 263.1,155.4 263.4,155.4 263.7,155.4 264.0,155.4 264.3,155.4 264.6,155.5 264.9,155.5 265.2,155.5 265.5,155.5 265.8,155.5 266.1,155.5 266.4,155.5 266.7,155.5 267.0,155.5 267.3,155.5 267.6,155.5 267.9,155.5 268.3,155.5 268.6,155.5 268.9,155.5 269.2,155.5 269.5,155.5 269.8,155.6 270.1,155.6 270.4,155.6 270.7,155.6 271.0,155.6 271.3,155.6 271.6,155.6 271.9,155.6 272.2,155.6 272.5,155.6 272.8,155.6 273.1,155.6 273.5,155.6 273.8,155.6 274.1,155.6 274.4,155.6 274.7,155.6 275.0,155.6 275.3,155.6 275.6,155.6 275.9,155.6 276.2,155.6 276.5,155.6 276.8,155.6 277.1,155.6 277.4,155.6 277.7,155.6 278.0,155.6 278.3,155.7 278.6,155.7 279.0,155.7 279.3,155.7 279.6,155.7 279.9,155.7 280.2,155.7 280.5,155.7 280.8,155.7 281.1,155.7 281.4,155.7 281.7,155.7 282.0,155.7 282.3,155.7 282.6,155.7 282.9,155.7 283.2,155.7 283.5,155.7 283.8,155.7 284.2,155.7 284.5,155.7 284.8,155.7 285.1,155.7 285.4,155.7 285.7,155.7 286.0,155.7 286.3,155.7 286.6,155.7 286.9,155.7 287.2,155.7 287.5,155.7 287.8,155.7 288.1,155.7 288.4,155.7 288.7,155.7 289.0,155.7 289.3,155.7 289.7,155.7 290.0,155.7 290.3,155.8 290.6,155.8 290.9,155.8 291.2,155.8 291.5,155.8 291.8,155.7 292.1,155.7 292.4,155.7 292.7,155.7 293.0,155.7 293.3,155.7 293.6,155.7 293.9,155.7 294.2,155.7 294.5,155.7 294.9,155.7 295.2,155.7 295.5,155.7 295.8,155.7 296.1,155.7 296.4,155.7 296.7,155.7 297.0,155.7 297.3,155.7 297.6,155.7 297.9,155.7 298.2,155.7 298.5,155.7 298.8,155.7 299.1,155.7 299.4,155.7 299.7,155.7 300.0,155.7 300.4,155.7 300.7,155.7 301.0,155.7 301.3,155.7 301.6,155.7 301.9,155.7 302.2,155.7 302.5,155.7 302.8,155.7 303.1,155.7 303.4,155.7 303.7,155.7 304.0,155.7 304.3,155.7 304.6,155.7 304.9,155.7 305.2,155.7 305.6,155.7 305.9,155.7 306.2,155.7 306.5,155.7 306.8,155.7 307.1,155.7 307.4,155.7 307.7,155.7 308.0,155.7 308.3,155.7 308.6,155.7 308.9,155.7 309.2,155.7 309.5,155.7 309.8,155.7 310.1,155.7 310.4,155.7 310.7,155.7 311.1,155.7 311.4,155.7 311.7,155.7 312.0,155.7 312.3,155.7 312.6,155.7 312.9,155.7 313.2,155.7 313.5,155.7 313.8,155.7 314.1,155.7 314.4,155.6 314.7,155.6 315.0,155.6 315.3,155.6 315.6,155.6 315.9,155.6 316.3,155.6 316.6,155.6 316.9,155.6 317.2,155.6 317.5,155.6 317.8,155.6 318.1,155.6 318.4,155.6 318.7,155.6 319.0,155.6 319.3,155.6 319.6,155.6 319.9,155.6 320.2,155.6 320.5,155.6 320.8,155.6 321.1,155.6 321.4,155.6 321.8,155.6 322.1,155.6 322.4,155.6 322.7,155.6 323.0,155.6 323.3,155.6 323.6,155.6 323.9,155.6 324.2,155.6 324.5,155.6 324.8,155.6 325.1,155.6 325.4,155.6 325.7,155.6 326.0,155.6 326.3,155.6 326.6,155.6 327.0,155.6 327.3,155.6 327.6,155.6 327.9,155.6 328.2,155.6 328.5,155.6 328.8,155.6 329.1,155.6 329.4,155.6 329.7,155.6 330.0,155.6 330.3,155.6 330.6,155.6 330.9,155.6 331.2,155.6 331.5,155.6 331.8,155.6 332.1,155.6 332.5,155.6 332.8,155.6 333.1,155.6 333.4,155.6 333.7,155.6 334.0,155.6 334.3,155.6 334.6,155.5 334.9,155.5 335.2,155.5 335.5,155.5 335.8,155.5 336.1,155.5 336.4,155.5 336.7,155.5 337.0,155.5 337.3,155.5 337.7,155.5 338.0,155.5 338.3,155.5 338.6,155.5 338.9,155.5 339.2,155.5 339.5,155.5 339.8,155.5 340.1,155.5 340.4,155.5 340.7,155.5 341.0,155.5 341.3,155.5 341.6,155.5 341.9,155.5 342.2,155.5 342.5,155.5 342.8,155.5 343.2,155.5 343.5,155.5 343.8,155.5 344.1,155.5 344.4,155.5 344.7,155.5 345.0,155.5 345.3,155.5 345.6,155.5 345.9,155.5 346.2,155.5 346.5,155.5 346.8,155.5 347.1,155.5 347.4,155.5 347.7,155.5 348.0,155.5 348.4,155.5 348.7,155.5 349.0,155.5 349.3,155.5 349.6,155.5 349.9,155.5 350.2,155.5 350.5,155.5 350.8,155.5 351.1,155.5 351.4,155.5 351.7,155.5 352.0,155.5 352.3,155.4 352.6,155.4 352.9,155.4 353.2,155.4 353.5,155.4 353.9,155.4 354.2,155.4 354.5,155.4 354.8,155.4 355.1,155.4 355.4,155.4 355.7,155.4 356.0,155.4 356.3,155.4 356.6,155.4 356.9,155.4 357.2,155.4 357.5,155.4 357.8,155.4 358.1,155.4 358.4,155.4 358.7,155.4 359.1,155.4 359.4,155.4 359.7,155.4 360.0,155.4 360.3,155.4 360.6,155.4 360.9,155.4 361.2,155.4 361.5,155.4 361.8,155.4 362.1,155.4 362.4,155.4 362.7,155.4 363.0,155.4 363.3,155.4 363.6,155.4 363.9,155.4 364.2,155.4 364.6,155.3 364.9,155.3 365.2,155.3 365.5,155.3 365.8,155.3 366.1,155.3 366.4,155.3 366.7,155.3 367.0,155.3 367.3,155.3 367.6,155.3 367.9,155.3 368.2,155.3 368.5,155.3 368.8,155.3 369.1,155.3 369.4,155.3 369.8,155.3 370.1,155.3 370.4,155.3 370.7,155.3 371.0,155.3 371.3,155.3 371.6,155.3 371.9,155.3 372.2,155.2 372.5,155.2 372.8,155.2 373.1,155.2 373.4,155.2 373.7,155.2 374.0,155.2 374.3,155.1 374.6,155.1 374.9,155.1 375.3,155.1 375.6,155.0 375.9,155.0 376.2,155.0 376.5,154.9 376.8,154.9 377.1,154.8 377.4,154.8 377.7,154.7 378.0,154.7 378.3,154.6 378.6,154.6 378.9,154.5 379.2,154.5 379.5,154.4 379.8,154.4 380.1,154.4 380.5,154.3 380.8,154.3 381.1,154.3 381.4,154.3 381.7,154.3 382.0,154.3 382.3,154.3 382.6,154.4 382.9,154.4 383.2,154.5 383.5,154.5 383.8,154.6 384.1,154.6 384.4,154.7 384.7,154.7 385.0,154.8 385.3,154.8 385.6,154.9 386.0,154.9 386.3,155.0 386.6,155.0 386.9,155.0 387.2,155.1 387.5,155.1 387.8,155.1 388.1,155.1 388.4,155.2 388.7,155.2 389.0,155.2 389.3,155.2 389.6,155.2 389.9,155.2 390.2,155.2 390.5,155.2 390.8,155.2 391.2,155.2 391.5,155.2 391.8,155.2 392.1,155.3 392.4,155.3 392.7,155.3 393.0,155.3 393.3,155.3 393.6,155.3 393.9,155.3 394.2,155.3 394.5,155.3 394.8,155.2 395.1,155.2 395.4,155.2 395.7,155.2 396.0,155.2 396.3,155.2 396.7,155.2 397.0,155.1 397.3,155.1 397.6,155.0 397.9,155.0 398.2,154.9 398.5,154.8 398.8,154.6 399.1,154.5 399.4,154.3 399.7,154.0 400.0,153.8 400.3,153.5 400.6,153.2 400.9,153.0 401.2,152.7 401.5,152.4 401.9,152.2 402.2,152.1 402.5,152.0 402.8,152.0 403.1,152.1 403.4,152.2 403.7,152.4 404.0,152.7 404.3,153.0 404.6,153.2 404.9,153.5 405.2,153.8 405.5,154.0 405.8,154.2 406.1,154.4 406.4,154.6 406.7,154.7 407.0,154.9 407.4,154.9 407.7,155.0 408.0,155.1 408.3,155.1 408.6,155.1 408.9,155.1 409.2,155.2 409.5,155.2 409.8,155.2 410.1,155.2 410.4,155.2 410.7,155.2 411.0,155.1 411.3,155.1 411.6,155.1 411.9,155.1 412.2,155.0 412.6,155.0 412.9,155.0 413.2,154.9 413.5,154.9 413.8,154.8 414.1,154.8 414.4,154.7 414.7,154.7 415.0,154.6 415.3,154.5 415.6,154.5 415.9,154.4 416.2,154.3 416.5,154.2 416.8,154.1 417.1,154.0 417.4,153.9 417.7,153.7 418.1,153.5 418.4,153.3 418.7,153.1 419.0,152.7 419.3,152.3 419.6,151.7 419.9,150.9 420.2,149.8 420.5,148.5 420.8,146.7 421.1,144.5 421.4,141.8 421.7,138.6 422.0,134.9 422.3,130.9 422.6,126.5 422.9,122.2 423.3,118.0 423.6,114.3 423.9,111.6 424.2,110.0 424.5,109.8 424.8,110.8 425.1,112.9 425.4,115.5 425.7,118.0 426.0,119.8 426.3,120.9 426.6,121.8 426.9,123.4 427.2,125.4 427.5,126.7 427.8,126.5 428.1,124.5 428.4,121.2 428.8,117.1 429.1,113.1 429.4,109.7 429.7,107.5 430.0,106.9 430.3,107.5 430.6,108.8 430.9,110.0 431.2,110.6 431.5,110.8 431.8,111.0 432.1,111.6 432.4,112.1 432.7,111.9 433.0,111.1 433.3,110.2 433.6,110.1 434.0,111.4 434.3,114.1 434.6,117.4 434.9,120.8 435.2,123.6 435.5,125.5 435.8,126.4 436.1,126.5 436.4,125.9 436.7,125.0 437.0,124.1 437.3,123.5 437.6,123.5 437.9,124.2 438.2,125.5 438.5,127.4 438.8,129.7 439.1,132.3 439.5,135.0 439.8,137.6 440.1,140.1 440.4,142.4 440.7,144.4 441.0,146.1 441.3,147.6 441.6,148.8 441.9,149.7 442.2,150.5 442.5,151.1 442.8,151.5 443.1,151.9 443.4,152.1 443.7,152.3 444.0,152.5 444.3,152.6 444.7,152.6 445.0,152.7 445.3,152.7 445.6,152.7 445.9,152.7 446.2,152.7 446.5,152.6 446.8,152.5 447.1,152.5 447.4,152.5 447.7,152.5 448.0,152.6 448.3,152.7 448.6,152.7 448.9,152.7 449.2,152.7 449.5,152.7 449.8,152.6 450.2,152.6 450.5,152.4 450.8,152.3 451.1,152.0 451.4,151.6 451.7,151.1 452.0,150.2 452.3,149.0 452.6,147.4 452.9,145.2 453.2,142.4 453.5,139.1 453.8,135.4 454.1,131.6 454.4,128.0 454.7,125.2 455.0,123.6 455.4,123.6 455.7,125.2 456.0,128.0 456.3,131.6 456.6,135.4 456.9,139.1 457.2,142.3 457.5,145.1 457.8,147.3 458.1,148.9 458.4,150.1 458.7,151.0 459.0,151.5 459.3,151.9 459.6,152.2 459.9,152.3 460.2,152.5 460.5,152.5 460.9,152.6 461.2,152.7 461.5,152.7 461.8,152.8 462.1,152.8 462.4,152.8 462.7,152.9 463.0,152.9 463.3,152.9 463.6,152.9 463.9,152.9 464.2,152.9 464.5,152.9 464.8,153.0 465.1,153.0 465.4,153.0 465.7,153.0 466.1,153.0 466.4,153.0 466.7,153.0 467.0,153.0 467.3,153.0 467.6,153.0 467.9,153.0 468.2,153.0 468.5,153.0 468.8,153.0 469.1,152.9 469.4,152.9 469.7,152.9 470.0,152.9 470.3,152.9 470.6,152.9 470.9,152.9 471.2,152.9 471.6,152.9 471.9,152.9 472.2,152.9 472.5,152.9 472.8,152.9 473.1,152.9 473.4,152.9 473.7,152.8 474.0,152.8"/>
<polyline fill="none" stroke="#37AD6B" stroke-width="1.9" stroke-linejoin="round" points="30.7,97.0 31.0,97.0 31.3,97.0 31.6,97.1 31.9,97.1 32.2,97.1 32.5,97.2 32.9,97.2 33.2,97.2 33.5,97.2 33.8,97.3 34.1,97.3 34.4,97.3 34.7,97.4 35.0,97.4 35.3,97.4 35.6,97.5 35.9,97.5 36.2,97.5 36.5,97.5 36.8,97.6 37.1,97.6 37.4,97.6 37.7,97.7 38.1,97.7 38.4,97.7 38.7,97.7 39.0,97.7 39.3,97.8 39.6,97.8 39.9,97.8 40.2,97.7 40.5,97.7 40.8,97.6 41.1,97.6 41.4,97.5 41.7,97.3 42.0,97.2 42.3,97.0 42.6,96.8 42.9,96.5 43.2,96.2 43.6,95.9 43.9,95.5 44.2,95.1 44.5,94.7 44.8,94.4 45.1,94.1 45.4,93.8 45.7,93.7 46.0,93.6 46.3,93.7 46.6,93.8 46.9,94.1 47.2,94.4 47.5,94.7 47.8,95.1 48.1,95.4 48.4,95.8 48.8,96.1 49.1,96.4 49.4,96.7 49.7,96.9 50.0,97.1 50.3,97.2 50.6,97.4 50.9,97.5 51.2,97.5 51.5,97.6 51.8,97.6 52.1,97.6 52.4,97.7 52.7,97.7 53.0,97.7 53.3,97.7 53.6,97.7 53.9,97.7 54.3,97.7 54.6,97.7 54.9,97.7 55.2,97.7 55.5,97.7 55.8,97.7 56.1,97.7 56.4,97.7 56.7,97.7 57.0,97.7 57.3,97.7 57.6,97.7 57.9,97.7 58.2,97.7 58.5,97.7 58.8,97.7 59.1,97.7 59.5,97.7 59.8,97.7 60.1,97.7 60.4,97.7 60.7,97.7 61.0,97.7 61.3,97.7 61.6,97.7 61.9,97.7 62.2,97.7 62.5,97.7 62.8,97.7 63.1,97.7 63.4,97.7 63.7,97.7 64.0,97.7 64.3,97.7 64.6,97.7 65.0,97.7 65.3,97.7 65.6,97.7 65.9,97.7 66.2,97.7 66.5,97.7 66.8,97.7 67.1,97.7 67.4,97.7 67.7,97.7 68.0,97.7 68.3,97.6 68.6,97.6 68.9,97.6 69.2,97.6 69.5,97.6 69.8,97.6 70.2,97.6 70.5,97.6 70.8,97.6 71.1,97.6 71.4,97.6 71.7,97.6 72.0,97.6 72.3,97.6 72.6,97.6 72.9,97.6 73.2,97.6 73.5,97.6 73.8,97.6 74.1,97.6 74.4,97.6 74.7,97.6 75.0,97.5 75.3,97.5 75.7,97.5 76.0,97.5 76.3,97.5 76.6,97.5 76.9,97.5 77.2,97.5 77.5,97.5 77.8,97.5 78.1,97.5 78.4,97.5 78.7,97.4 79.0,97.4 79.3,97.4 79.6,97.4 79.9,97.4 80.2,97.3 80.5,97.3 80.9,97.2 81.2,97.1 81.5,96.9 81.8,96.5 82.1,95.9 82.4,94.9 82.7,93.4 83.0,91.6 83.3,89.6 83.6,87.9 83.9,87.3 84.2,87.9 84.5,89.6 84.8,91.6 85.1,93.4 85.4,94.9 85.7,95.9 86.0,96.5 86.4,96.9 86.7,97.1 87.0,97.2 87.3,97.2 87.6,97.3 87.9,97.3 88.2,97.3 88.5,97.3 88.8,97.4 89.1,97.4 89.4,97.4 89.7,97.4 90.0,97.4 90.3,97.4 90.6,97.4 90.9,97.4 91.2,97.4 91.6,97.4 91.9,97.4 92.2,97.4 92.5,97.4 92.8,97.4 93.1,97.4 93.4,97.4 93.7,97.4 94.0,97.4 94.3,97.4 94.6,97.4 94.9,97.4 95.2,97.4 95.5,97.4 95.8,97.4 96.1,97.4 96.4,97.4 96.7,97.4 97.1,97.4 97.4,97.4 97.7,97.4 98.0,97.4 98.3,97.4 98.6,97.4 98.9,97.4 99.2,97.4 99.5,97.4 99.8,97.4 100.1,97.4 100.4,97.4 100.7,97.4 101.0,97.4 101.3,97.4 101.6,97.4 101.9,97.4 102.3,97.4 102.6,97.3 102.9,97.3 103.2,97.3 103.5,97.3 103.8,97.3 104.1,97.3 104.4,97.3 104.7,97.3 105.0,97.3 105.3,97.3 105.6,97.3 105.9,97.3 106.2,97.3 106.5,97.3 106.8,97.2 107.1,97.2 107.4,97.2 107.8,97.2 108.1,97.2 108.4,97.2 108.7,97.1 109.0,97.0 109.3,96.9 109.6,96.7 109.9,96.4 110.2,96.0 110.5,95.6 110.8,95.1 111.1,94.6 111.4,94.2 111.7,93.9 112.0,93.9 112.3,94.1 112.6,94.5 113.0,95.0 113.3,95.4 113.6,95.7 113.9,95.9 114.2,95.9 114.5,95.7 114.8,95.4 115.1,94.8 115.4,94.2 115.7,93.6 116.0,93.0 116.3,92.7 116.6,92.8 116.9,93.1 117.2,93.7 117.5,94.3 117.8,95.0 118.1,95.7 118.5,96.1 118.8,96.5 119.1,96.6 119.4,96.6 119.7,96.4 120.0,96.0 120.3,95.5 120.6,95.0 120.9,94.5 121.2,94.2 121.5,94.3 121.8,94.6 122.1,95.1 122.4,95.7 122.7,96.3 123.0,96.8 123.3,97.2 123.7,97.4 124.0,97.6 124.3,97.7 124.6,97.8 124.9,97.8 125.2,97.8 125.5,97.9 125.8,97.9 126.1,97.9 126.4,97.9 126.7,97.8 127.0,97.7 127.3,97.6 127.6,97.5 127.9,97.3 128.2,97.1 128.5,96.8 128.8,96.5 129.2,96.1 129.5,95.8 129.8,95.4 130.1,95.2 130.4,95.0 130.7,95.0 131.0,95.1 131.3,95.4 131.6,95.7 131.9,96.0 132.2,96.3 132.5,96.6 132.8,96.9 133.1,97.1 133.4,97.3 133.7,97.4 134.0,97.5 134.4,97.5 134.7,97.5 135.0,97.6 135.3,97.6 135.6,97.6 135.9,97.5 136.2,97.5 136.5,97.5 136.8,97.5 137.1,97.5 137.4,97.4 137.7,97.4 138.0,97.4 138.3,97.4 138.6,97.3 138.9,97.3 139.2,97.2 139.5,97.2 139.9,97.1 140.2,97.0 140.5,96.9 140.8,96.7 141.1,96.5 141.4,96.1 141.7,95.3 142.0,93.7 142.3,91.0 142.6,86.5 142.9,80.4 143.2,73.5 143.5,67.4 143.8,64.9 144.1,67.3 144.4,73.1 144.7,79.9 145.1,85.6 145.4,89.6 145.7,91.8 146.0,92.6 146.3,92.7 146.6,92.4 146.9,92.0 147.2,91.8 147.5,91.9 147.8,92.3 148.1,93.0 148.4,93.8 148.7,94.5 149.0,95.2 149.3,95.8 149.6,96.3 149.9,96.6 150.2,96.8 150.6,97.0 150.9,97.0 151.2,97.1 151.5,97.1 151.8,97.1 152.1,97.0 152.4,96.9 152.7,96.8 153.0,96.6 153.3,96.4 153.6,96.1 153.9,95.7 154.2,95.2 154.5,94.7 154.8,94.2 155.1,93.6 155.4,93.1 155.8,92.6 156.1,92.3 156.4,92.2 156.7,92.3 157.0,92.6 157.3,93.0 157.6,93.5 157.9,94.1 158.2,94.6 158.5,95.1 158.8,95.6 159.1,95.9 159.4,96.2 159.7,96.4 160.0,96.4 160.3,96.2 160.6,95.8 160.9,95.0 161.3,93.8 161.6,92.3 161.9,90.6 162.2,89.2 162.5,88.7 162.8,89.3 163.1,90.6 163.4,92.3 163.7,93.9 164.0,95.2 164.3,96.0 164.6,96.6 164.9,96.9 165.2,97.0 165.5,97.1 165.8,97.2 166.1,97.2 166.5,97.2 166.8,97.2 167.1,97.2 167.4,97.2 167.7,97.2 168.0,97.2 168.3,97.2 168.6,97.2 168.9,97.2 169.2,97.2 169.5,97.2 169.8,97.1 170.1,97.1 170.4,97.1 170.7,97.0 171.0,97.0 171.3,96.9 171.6,96.8 172.0,96.7 172.3,96.6 172.6,96.4 172.9,96.2 173.2,96.0 173.5,95.7 173.8,95.3 174.1,94.9 174.4,94.4 174.7,93.8 175.0,93.1 175.3,92.3 175.6,91.5 175.9,90.6 176.2,89.7 176.5,88.7 176.8,87.7 177.2,86.8 177.5,85.9 177.8,85.1 178.1,84.4 178.4,83.9 178.7,83.6 179.0,83.4 179.3,83.4 179.6,83.6 179.9,83.8 180.2,84.1 180.5,84.4 180.8,84.8 181.1,85.1 181.4,85.4 181.7,85.8 182.0,86.1 182.3,86.5 182.7,87.0 183.0,87.6 183.3,88.3 183.6,89.0 183.9,89.8 184.2,90.7 184.5,91.5 184.8,92.3 185.1,93.0 185.4,93.7 185.7,94.3 186.0,94.8 186.3,95.3 186.6,95.7 186.9,96.0 187.2,96.2 187.5,96.4 187.9,96.6 188.2,96.7 188.5,96.8 188.8,96.9 189.1,97.0 189.4,97.0 189.7,97.0 190.0,97.1 190.3,97.1 190.6,97.1 190.9,97.1 191.2,97.1 191.5,97.1 191.8,97.1 192.1,97.1 192.4,97.1 192.7,97.0 193.0,96.9 193.4,96.8 193.7,96.6 194.0,96.4 194.3,96.2 194.6,96.0 194.9,95.7 195.2,95.6 195.5,95.5 195.8,95.5 196.1,95.7 196.4,95.9 196.7,96.1 197.0,96.3 197.3,96.5 197.6,96.7 197.9,96.8 198.2,96.8 198.6,96.8 198.9,96.8 199.2,96.8 199.5,96.8 199.8,96.7 200.1,96.6 200.4,96.5 200.7,96.3 201.0,96.0 201.3,95.8 201.6,95.4 201.9,94.9 202.2,94.3 202.5,93.5 202.8,92.6 203.1,91.6 203.4,90.3 203.7,89.0 204.1,87.5 204.4,85.9 204.7,84.2 205.0,82.6 205.3,81.1 205.6,79.8 205.9,78.7 206.2,78.0 206.5,77.8 206.8,78.0 207.1,78.7 207.4,79.7 207.7,81.1 208.0,82.6 208.3,84.2 208.6,85.8 208.9,87.4 209.3,88.9 209.6,90.2 209.9,91.3 210.2,92.2 210.5,92.9 210.8,93.3 211.1,93.5 211.4,93.5 211.7,93.5 212.0,93.5 212.3,93.7 212.6,94.2 212.9,94.8 213.2,95.3 213.5,95.8 213.8,96.2 214.1,96.5 214.4,96.7 214.8,96.9 215.1,97.0 215.4,97.0 215.7,97.1 216.0,97.1 216.3,97.1 216.6,97.1 216.9,97.2 217.2,97.2 217.5,97.2 217.8,97.2 218.1,97.2 218.4,97.2 218.7,97.2 219.0,97.2 219.3,97.3 219.6,97.3 220.0,97.3 220.3,97.3 220.6,97.3 220.9,97.2 221.2,97.2 221.5,97.2 221.8,97.2 222.1,97.2 222.4,97.2 222.7,97.2 223.0,97.1 223.3,97.1 223.6,97.0 223.9,96.9 224.2,96.6 224.5,96.2 224.8,95.5 225.1,94.5 225.5,93.1 225.8,91.4 226.1,89.8 226.4,88.7 226.7,88.6 227.0,89.4 227.3,90.5 227.6,91.3 227.9,91.3 228.2,90.0 228.5,87.4 228.8,84.1 229.1,81.2 229.4,80.0 229.7,81.4 230.0,84.6 230.3,88.3 230.7,91.5 231.0,93.9 231.3,95.3 231.6,96.1 231.9,96.6 232.2,96.8 232.5,96.9 232.8,97.0 233.1,97.1 233.4,97.1 233.7,97.2 234.0,97.2 234.3,97.2 234.6,97.2 234.9,97.2 235.2,97.3 235.5,97.3 235.8,97.3 236.2,97.3 236.5,97.3 236.8,97.3 237.1,97.3 237.4,97.3 237.7,97.3 238.0,97.3 238.3,97.3 238.6,97.3 238.9,97.3 239.2,97.3 239.5,97.2 239.8,97.2 240.1,97.2 240.4,97.2 240.7,97.2 241.0,97.2 241.4,97.1 241.7,97.1 242.0,97.1 242.3,97.0 242.6,97.0 242.9,96.9 243.2,96.8 243.5,96.8 243.8,96.6 244.1,96.4 244.4,96.2 244.7,95.8 245.0,95.3 245.3,94.6 245.6,93.6 245.9,92.4 246.2,90.8 246.5,88.9 246.9,86.7 247.2,84.2 247.5,81.7 247.8,79.3 248.1,77.3 248.4,76.0 248.7,75.5 249.0,76.0 249.3,77.3 249.6,79.4 249.9,81.7 250.2,84.2 250.5,86.7 250.8,88.9 251.1,90.8 251.4,92.4 251.7,93.7 252.1,94.6 252.4,95.4 252.7,95.9 253.0,96.2 253.3,96.5 253.6,96.7 253.9,96.8 254.2,96.9 254.5,97.0 254.8,97.0 255.1,97.1 255.4,97.1 255.7,97.2 256.0,97.2 256.3,97.2 256.6,97.3 256.9,97.3 257.2,97.3 257.6,97.3 257.9,97.3 258.2,97.4 258.5,97.4 258.8,97.4 259.1,97.4 259.4,97.4 259.7,97.4 260.0,97.4 260.3,97.4 260.6,97.5 260.9,97.5 261.2,97.5 261.5,97.5 261.8,97.5 262.1,97.5 262.4,97.5 262.8,97.5 263.1,97.5 263.4,97.5 263.7,97.5 264.0,97.5 264.3,97.5 264.6,97.5 264.9,97.5 265.2,97.5 265.5,97.5 265.8,97.5 266.1,97.5 266.4,97.6 266.7,97.6 267.0,97.6 267.3,97.6 267.6,97.6 267.9,97.6 268.3,97.6 268.6,97.6 268.9,97.6 269.2,97.6 269.5,97.6 269.8,97.6 270.1,97.6 270.4,97.6 270.7,97.6 271.0,97.6 271.3,97.6 271.6,97.6 271.9,97.6 272.2,97.6 272.5,97.6 272.8,97.6 273.1,97.6 273.5,97.6 273.8,97.6 274.1,97.6 274.4,97.6 274.7,97.6 275.0,97.6 275.3,97.6 275.6,97.6 275.9,97.6 276.2,97.6 276.5,97.6 276.8,97.6 277.1,97.6 277.4,97.6 277.7,97.6 278.0,97.6 278.3,97.6 278.6,97.6 279.0,97.6 279.3,97.6 279.6,97.6 279.9,97.6 280.2,97.6 280.5,97.6 280.8,97.6 281.1,97.6 281.4,97.6 281.7,97.6 282.0,97.6 282.3,97.6 282.6,97.6 282.9,97.6 283.2,97.6 283.5,97.6 283.8,97.6 284.2,97.6 284.5,97.7 284.8,97.7 285.1,97.7 285.4,97.7 285.7,97.7 286.0,97.7 286.3,97.7 286.6,97.7 286.9,97.7 287.2,97.7 287.5,97.7 287.8,97.7 288.1,97.7 288.4,97.7 288.7,97.7 289.0,97.7 289.3,97.7 289.7,97.7 290.0,97.7 290.3,97.7 290.6,97.7 290.9,97.7 291.2,97.7 291.5,97.7 291.8,97.7 292.1,97.7 292.4,97.7 292.7,97.7 293.0,97.7 293.3,97.7 293.6,97.7 293.9,97.7 294.2,97.7 294.5,97.7 294.9,97.7 295.2,97.7 295.5,97.6 295.8,97.6 296.1,97.6 296.4,97.6 296.7,97.6 297.0,97.6 297.3,97.6 297.6,97.6 297.9,97.6 298.2,97.6 298.5,97.6 298.8,97.6 299.1,97.6 299.4,97.6 299.7,97.6 300.0,97.6 300.4,97.6 300.7,97.6 301.0,97.6 301.3,97.6 301.6,97.6 301.9,97.6 302.2,97.6 302.5,97.6 302.8,97.6 303.1,97.6 303.4,97.6 303.7,97.6 304.0,97.6 304.3,97.6 304.6,97.6 304.9,97.6 305.2,97.6 305.6,97.6 305.9,97.6 306.2,97.6 306.5,97.6 306.8,97.6 307.1,97.6 307.4,97.6 307.7,97.6 308.0,97.6 308.3,97.6 308.6,97.6 308.9,97.6 309.2,97.6 309.5,97.6 309.8,97.6 310.1,97.6 310.4,97.6 310.7,97.6 311.1,97.6 311.4,97.6 311.7,97.6 312.0,97.6 312.3,97.6 312.6,97.6 312.9,97.6 313.2,97.6 313.5,97.6 313.8,97.6 314.1,97.6 314.4,97.6 314.7,97.6 315.0,97.6 315.3,97.6 315.6,97.6 315.9,97.6 316.3,97.6 316.6,97.6 316.9,97.6 317.2,97.5 317.5,97.5 317.8,97.5 318.1,97.5 318.4,97.5 318.7,97.5 319.0,97.5 319.3,97.5 319.6,97.5 319.9,97.5 320.2,97.5 320.5,97.5 320.8,97.5 321.1,97.5 321.4,97.5 321.8,97.5 322.1,97.5 322.4,97.5 322.7,97.5 323.0,97.5 323.3,97.5 323.6,97.5 323.9,97.5 324.2,97.5 324.5,97.5 324.8,97.5 325.1,97.5 325.4,97.5 325.7,97.5 326.0,97.5 326.3,97.5 326.6,97.5 327.0,97.5 327.3,97.5 327.6,97.5 327.9,97.5 328.2,97.5 328.5,97.5 328.8,97.5 329.1,97.5 329.4,97.5 329.7,97.5 330.0,97.5 330.3,97.5 330.6,97.5 330.9,97.5 331.2,97.5 331.5,97.5 331.8,97.5 332.1,97.5 332.5,97.5 332.8,97.5 333.1,97.5 333.4,97.5 333.7,97.5 334.0,97.5 334.3,97.5 334.6,97.5 334.9,97.5 335.2,97.5 335.5,97.5 335.8,97.5 336.1,97.5 336.4,97.5 336.7,97.5 337.0,97.5 337.3,97.4 337.7,97.4 338.0,97.4 338.3,97.4 338.6,97.4 338.9,97.4 339.2,97.4 339.5,97.4 339.8,97.4 340.1,97.4 340.4,97.4 340.7,97.4 341.0,97.4 341.3,97.4 341.6,97.4 341.9,97.4 342.2,97.4 342.5,97.4 342.8,97.4 343.2,97.4 343.5,97.4 343.8,97.4 344.1,97.4 344.4,97.4 344.7,97.4 345.0,97.4 345.3,97.4 345.6,97.4 345.9,97.4 346.2,97.4 346.5,97.4 346.8,97.4 347.1,97.4 347.4,97.4 347.7,97.4 348.0,97.4 348.4,97.4 348.7,97.4 349.0,97.4 349.3,97.4 349.6,97.4 349.9,97.4 350.2,97.4 350.5,97.4 350.8,97.4 351.1,97.4 351.4,97.4 351.7,97.4 352.0,97.4 352.3,97.4 352.6,97.4 352.9,97.4 353.2,97.4 353.5,97.4 353.9,97.4 354.2,97.4 354.5,97.4 354.8,97.4 355.1,97.3 355.4,97.3 355.7,97.3 356.0,97.3 356.3,97.3 356.6,97.3 356.9,97.3 357.2,97.3 357.5,97.3 357.8,97.3 358.1,97.3 358.4,97.3 358.7,97.3 359.1,97.3 359.4,97.3 359.7,97.3 360.0,97.3 360.3,97.3 360.6,97.3 360.9,97.3 361.2,97.3 361.5,97.3 361.8,97.3 362.1,97.3 362.4,97.3 362.7,97.3 363.0,97.3 363.3,97.3 363.6,97.3 363.9,97.3 364.2,97.3 364.6,97.3 364.9,97.3 365.2,97.3 365.5,97.3 365.8,97.3 366.1,97.3 366.4,97.3 366.7,97.3 367.0,97.3 367.3,97.2 367.6,97.2 367.9,97.2 368.2,97.2 368.5,97.2 368.8,97.2 369.1,97.2 369.4,97.2 369.8,97.2 370.1,97.2 370.4,97.2 370.7,97.2 371.0,97.2 371.3,97.2 371.6,97.2 371.9,97.2 372.2,97.2 372.5,97.2 372.8,97.2 373.1,97.2 373.4,97.2 373.7,97.1 374.0,97.1 374.3,97.1 374.6,97.1 374.9,97.1 375.3,97.1 375.6,97.0 375.9,97.0 376.2,97.0 376.5,97.0 376.8,96.9 377.1,96.9 377.4,96.9 377.7,96.8 378.0,96.8 378.3,96.7 378.6,96.7 378.9,96.7 379.2,96.6 379.5,96.6 379.8,96.6 380.1,96.5 380.5,96.5 380.8,96.5 381.1,96.5 381.4,96.5 381.7,96.5 382.0,96.5 382.3,96.5 382.6,96.6 382.9,96.6 383.2,96.6 383.5,96.7 383.8,96.7 384.1,96.7 384.4,96.8 384.7,96.8 385.0,96.8 385.3,96.9 385.6,96.9 386.0,96.9 386.3,97.0 386.6,97.0 386.9,97.0 387.2,97.0 387.5,97.1 387.8,97.1 388.1,97.1 388.4,97.1 388.7,97.1 389.0,97.1 389.3,97.1 389.6,97.2 389.9,97.2 390.2,97.2 390.5,97.2 390.8,97.2 391.2,97.2 391.5,97.2 391.8,97.2 392.1,97.2 392.4,97.2 392.7,97.2 393.0,97.2 393.3,97.2 393.6,97.2 393.9,97.2 394.2,97.2 394.5,97.2 394.8,97.2 395.1,97.1 395.4,97.1 395.7,97.1 396.0,97.1 396.3,97.0 396.7,97.0 397.0,96.9 397.3,96.8 397.6,96.8 397.9,96.6 398.2,96.5 398.5,96.4 398.8,96.2 399.1,96.0 399.4,95.7 399.7,95.5 400.0,95.2 400.3,95.0 400.6,94.7 400.9,94.4 401.2,94.2 401.5,94.0 401.9,93.8 402.2,93.7 402.5,93.6 402.8,93.6 403.1,93.7 403.4,93.8 403.7,94.0 404.0,94.2 404.3,94.5 404.6,94.7 404.9,95.0 405.2,95.3 405.5,95.5 405.8,95.8 406.1,96.0 406.4,96.2 406.7,96.4 407.0,96.5 407.4,96.7 407.7,96.8 408.0,96.9 408.3,96.9 408.6,97.0 408.9,97.0 409.2,97.1 409.5,97.1 409.8,97.1 410.1,97.1 410.4,97.1 410.7,97.1 411.0,97.1 411.3,97.1 411.6,97.1 411.9,97.1 412.2,97.1 412.6,97.0 412.9,97.0 413.2,97.0 413.5,96.9 413.8,96.8 414.1,96.8 414.4,96.7 414.7,96.6 415.0,96.5 415.3,96.3 415.6,96.1 415.9,95.8 416.2,95.4 416.5,94.8 416.8,94.0 417.1,93.1 417.4,91.9 417.7,90.6 418.1,89.2 418.4,87.7 418.7,86.3 419.0,85.0 419.3,83.7 419.6,82.3 419.9,80.5 420.2,78.2 420.5,75.2 420.8,71.8 421.1,68.1 421.4,64.7 421.7,62.0 422.0,60.3 422.3,59.6 422.6,59.5 422.9,59.6 423.3,59.6 423.6,59.5 423.9,59.7 424.2,60.5 424.5,62.4 424.8,65.5 425.1,69.4 425.4,73.4 425.7,77.1 426.0,79.9 426.3,81.7 426.6,82.6 426.9,83.4 427.2,84.9 427.5,87.2 427.8,89.7 428.1,91.8 428.4,93.2 428.8,94.1 429.1,94.6 429.4,94.8 429.7,94.9 430.0,95.0 430.3,94.9 430.6,94.8 430.9,94.6 431.2,94.1 431.5,93.4 431.8,92.1 432.1,90.2 432.4,87.6 432.7,84.3 433.0,80.6 433.3,76.9 433.6,74.1 434.0,72.9 434.3,73.7 434.6,76.0 434.9,79.0 435.2,81.8 435.5,83.9 435.8,85.0 436.1,85.2 436.4,84.5 436.7,83.3 437.0,82.0 437.3,81.0 437.6,80.7 437.9,81.3 438.2,82.6 438.5,84.4 438.8,86.5 439.1,88.5 439.5,90.3 439.8,91.8 440.1,92.9 440.4,93.8 440.7,94.4 441.0,94.9 441.3,95.1 441.6,95.3 441.9,95.4 442.2,95.5 442.5,95.6 442.8,95.6 443.1,95.7 443.4,95.7 443.7,95.7 444.0,95.7 444.3,95.7 444.7,95.7 445.0,95.7 445.3,95.7 445.6,95.7 445.9,95.7 446.2,95.7 446.5,95.7 446.8,95.7 447.1,95.7 447.4,95.7 447.7,95.6 448.0,95.6 448.3,95.6 448.6,95.6 448.9,95.5 449.2,95.5 449.5,95.4 449.8,95.4 450.2,95.3 450.5,95.2 450.8,95.1 451.1,94.9 451.4,94.6 451.7,94.3 452.0,93.7 452.3,92.9 452.6,91.9 452.9,90.5 453.2,88.8 453.5,86.9 453.8,84.8 454.1,82.8 454.4,81.0 454.7,79.8 455.0,79.3 455.4,79.7 455.7,81.0 456.0,82.7 456.3,84.8 456.6,86.8 456.9,88.7 457.2,90.3 457.5,91.7 457.8,92.7 458.1,93.5 458.4,94.0 458.7,94.4 459.0,94.6 459.3,94.8 459.6,94.9 459.9,94.9 460.2,95.0 460.5,95.0 460.9,95.0 461.2,95.0 461.5,95.0 461.8,95.0 462.1,95.0 462.4,95.0 462.7,95.0 463.0,95.0 463.3,95.0 463.6,95.0 463.9,95.0 464.2,95.0 464.5,95.0 464.8,95.0 465.1,95.0 465.4,94.9 465.7,94.9 466.1,94.9 466.4,94.9 466.7,94.9 467.0,94.9 467.3,94.8 467.6,94.8 467.9,94.8 468.2,94.8 468.5,94.8 468.8,94.8 469.1,94.7 469.4,94.7 469.7,94.7 470.0,94.7 470.3,94.7 470.6,94.6 470.9,94.6 471.2,94.6 471.6,94.6 471.9,94.6 472.2,94.5 472.5,94.5 472.8,94.5 473.1,94.5 473.4,94.5 473.7,94.4 474.0,94.4"/>
<polyline fill="none" stroke="#B177DE" stroke-width="1.9" stroke-linejoin="round" points="30.7,50.2 31.0,50.2 31.3,50.2 31.6,50.2 31.9,50.2 32.2,50.2 32.5,50.2 32.9,50.2 33.2,50.2 33.5,50.2 33.8,50.2 34.1,50.2 34.4,50.2 34.7,50.2 35.0,50.2 35.3,50.2 35.6,50.2 35.9,50.2 36.2,50.2 36.5,50.2 36.8,50.2 37.1,50.2 37.4,50.2 37.7,50.2 38.1,50.2 38.4,50.2 38.7,50.2 39.0,50.2 39.3,50.2 39.6,50.2 39.9,50.2 40.2,50.1 40.5,50.1 40.8,50.1 41.1,50.0 41.4,50.0 41.7,49.9 42.0,49.8 42.3,49.6 42.6,49.5 42.9,49.3 43.2,49.1 43.6,48.8 43.9,48.6 44.2,48.3 44.5,48.0 44.8,47.8 45.1,47.5 45.4,47.4 45.7,47.2 46.0,47.2 46.3,47.2 46.6,47.4 46.9,47.6 47.2,47.8 47.5,48.0 47.8,48.3 48.1,48.6 48.4,48.9 48.8,49.1 49.1,49.3 49.4,49.5 49.7,49.7 50.0,49.9 50.3,50.0 50.6,50.1 50.9,50.1 51.2,50.2 51.5,50.2 51.8,50.3 52.1,50.3 52.4,50.3 52.7,50.4 53.0,50.4 53.3,50.4 53.6,50.4 53.9,50.4 54.3,50.4 54.6,50.4 54.9,50.4 55.2,50.4 55.5,50.4 55.8,50.5 56.1,50.5 56.4,50.5 56.7,50.5 57.0,50.5 57.3,50.5 57.6,50.5 57.9,50.5 58.2,50.5 58.5,50.5 58.8,50.5 59.1,50.5 59.5,50.5 59.8,50.5 60.1,50.5 60.4,50.5 60.7,50.5 61.0,50.5 61.3,50.6 61.6,50.6 61.9,50.6 62.2,50.6 62.5,50.6 62.8,50.6 63.1,50.6 63.4,50.6 63.7,50.6 64.0,50.6 64.3,50.6 64.6,50.6 65.0,50.6 65.3,50.6 65.6,50.6 65.9,50.6 66.2,50.6 66.5,50.6 66.8,50.6 67.1,50.6 67.4,50.6 67.7,50.6 68.0,50.6 68.3,50.6 68.6,50.7 68.9,50.7 69.2,50.7 69.5,50.7 69.8,50.7 70.2,50.7 70.5,50.7 70.8,50.7 71.1,50.7 71.4,50.7 71.7,50.7 72.0,50.7 72.3,50.7 72.6,50.7 72.9,50.7 73.2,50.7 73.5,50.7 73.8,50.7 74.1,50.7 74.4,50.7 74.7,50.7 75.0,50.7 75.3,50.7 75.7,50.7 76.0,50.7 76.3,50.7 76.6,50.7 76.9,50.7 77.2,50.7 77.5,50.7 77.8,50.7 78.1,50.7 78.4,50.7 78.7,50.7 79.0,50.7 79.3,50.7 79.6,50.6 79.9,50.6 80.2,50.6 80.5,50.6 80.9,50.5 81.2,50.4 81.5,50.2 81.8,49.9 82.1,49.3 82.4,48.3 82.7,46.9 83.0,45.1 83.3,43.2 83.6,41.6 83.9,41.0 84.2,41.6 84.5,43.2 84.8,45.1 85.1,46.9 85.4,48.3 85.7,49.3 86.0,49.9 86.4,50.3 86.7,50.5 87.0,50.6 87.3,50.7 87.6,50.7 87.9,50.7 88.2,50.8 88.5,50.8 88.8,50.8 89.1,50.8 89.4,50.8 89.7,50.9 90.0,50.9 90.3,50.9 90.6,50.9 90.9,50.9 91.2,50.9 91.6,50.9 91.9,50.9 92.2,50.9 92.5,50.9 92.8,50.9 93.1,50.9 93.4,50.9 93.7,50.9 94.0,50.9 94.3,50.9 94.6,51.0 94.9,51.0 95.2,50.9 95.5,50.9 95.8,50.9 96.1,50.9 96.4,50.9 96.7,50.9 97.1,50.8 97.4,50.8 97.7,50.7 98.0,50.5 98.3,50.4 98.6,50.2 98.9,50.0 99.2,49.8 99.5,49.7 99.8,49.6 100.1,49.6 100.4,49.7 100.7,49.8 101.0,50.0 101.3,50.2 101.6,50.4 101.9,50.5 102.3,50.6 102.6,50.7 102.9,50.7 103.2,50.7 103.5,50.7 103.8,50.7 104.1,50.6 104.4,50.6 104.7,50.5 105.0,50.4 105.3,50.2 105.6,50.0 105.9,49.8 106.2,49.6 106.5,49.3 106.8,49.0 107.1,48.7 107.4,48.4 107.8,48.0 108.1,47.6 108.4,47.2 108.7,46.8 109.0,46.5 109.3,46.2 109.6,45.9 109.9,45.7 110.2,45.5 110.5,45.5 110.8,45.5 111.1,45.7 111.4,45.9 111.7,46.2 112.0,46.5 112.3,46.8 112.6,47.2 113.0,47.6 113.3,48.0 113.6,48.4 113.9,48.7 114.2,49.0 114.5,49.3 114.8,49.6 115.1,49.8 115.4,50.0 115.7,50.2 116.0,50.4 116.3,50.5 116.6,50.6 116.9,50.7 117.2,50.7 117.5,50.8 117.8,50.8 118.1,50.8 118.5,50.7 118.8,50.6 119.1,50.5 119.4,50.3 119.7,50.1 120.0,49.8 120.3,49.5 120.6,49.4 120.9,49.3 121.2,49.4 121.5,49.6 121.8,49.8 122.1,50.1 122.4,50.4 122.7,50.6 123.0,50.7 123.3,50.9 123.7,50.9 124.0,51.0 124.3,51.0 124.6,51.0 124.9,51.0 125.2,51.0 125.5,51.0 125.8,51.0 126.1,51.0 126.4,51.0 126.7,50.9 127.0,50.8 127.3,50.7 127.6,50.6 127.9,50.5 128.2,50.3 128.5,50.0 128.8,49.8 129.2,49.4 129.5,49.1 129.8,48.8 130.1,48.5 130.4,48.3 130.7,48.2 131.0,48.2 131.3,48.3 131.6,48.5 131.9,48.8 132.2,49.1 132.5,49.4 132.8,49.7 133.1,50.0 133.4,50.2 133.7,50.4 134.0,50.6 134.4,50.7 134.7,50.8 135.0,50.9 135.3,50.9 135.6,50.9 135.9,50.9 136.2,50.9 136.5,50.9 136.8,50.9 137.1,50.9 137.4,50.9 137.7,50.9 138.0,50.9 138.3,50.8 138.6,50.8 138.9,50.8 139.2,50.7 139.5,50.7 139.9,50.6 140.2,50.5 140.5,50.4 140.8,50.2 141.1,50.0 141.4,49.6 141.7,48.8 142.0,47.3 142.3,44.5 142.6,40.1 142.9,34.1 143.2,27.1 143.5,21.1 143.8,18.6 144.1,20.9 144.4,26.7 144.7,33.3 145.1,39.0 145.4,42.9 145.7,45.1 146.0,46.1 146.3,46.4 146.6,46.4 146.9,46.5 147.2,46.8 147.5,47.2 147.8,47.8 148.1,48.4 148.4,49.0 148.7,49.5 149.0,49.9 149.3,50.2 149.6,50.4 149.9,50.5 150.2,50.6 150.6,50.7 150.9,50.7 151.2,50.7 151.5,50.7 151.8,50.7 152.1,50.7 152.4,50.7 152.7,50.7 153.0,50.6 153.3,50.5 153.6,50.3 153.9,50.1 154.2,49.9 154.5,49.5 154.8,49.1 155.1,48.6 155.4,48.1 155.8,47.5 156.1,46.9 156.4,46.3 156.7,45.8 157.0,45.5 157.3,45.4 157.6,45.5 157.9,45.8 158.2,46.3 158.5,46.8 158.8,47.4 159.1,47.9 159.4,48.4 159.7,48.9 160.0,49.2 160.3,49.4 160.6,49.3 160.9,48.9 161.3,48.2 161.6,47.0 161.9,45.4 162.2,43.7 162.5,42.3 162.8,41.7 163.1,42.3 163.4,43.8 163.7,45.6 164.0,47.2 164.3,48.5 164.6,49.5 164.9,50.0 165.2,50.3 165.5,50.5 165.8,50.6 166.1,50.7 166.5,50.7 166.8,50.7 167.1,50.7 167.4,50.8 167.7,50.8 168.0,50.8 168.3,50.8 168.6,50.8 168.9,50.8 169.2,50.8 169.5,50.8 169.8,50.8 170.1,50.7 170.4,50.7 170.7,50.7 171.0,50.7 171.3,50.7 171.6,50.6 172.0,50.6 172.3,50.6 172.6,50.5 172.9,50.4 173.2,50.3 173.5,50.2 173.8,50.1 174.1,49.9 174.4,49.7 174.7,49.5 175.0,49.2 175.3,48.9 175.6,48.5 175.9,48.0 176.2,47.4 176.5,46.8 176.8,46.1 177.2,45.4 177.5,44.6 177.8,43.8 178.1,42.9 178.4,42.0 178.7,41.1 179.0,40.3 179.3,39.6 179.6,39.0 179.9,38.5 180.2,38.2 180.5,38.1 180.8,38.2 181.1,38.5 181.4,39.0 181.7,39.6 182.0,40.3 182.3,41.1 182.7,42.0 183.0,42.9 183.3,43.7 183.6,44.6 183.9,45.4 184.2,46.1 184.5,46.8 184.8,47.4 185.1,47.9 185.4,48.4 185.7,48.8 186.0,49.2 186.3,49.4 186.6,49.7 186.9,49.9 187.2,50.0 187.5,50.2 187.9,50.3 188.2,50.3 188.5,50.4 188.8,50.5 189.1,50.5 189.4,50.5 189.7,50.6 190.0,50.6 190.3,50.6 190.6,50.6 190.9,50.6 191.2,50.6 191.5,50.6 191.8,50.6 192.1,50.6 192.4,50.6 192.7,50.5 193.0,50.4 193.4,50.3 193.7,50.1 194.0,49.9 194.3,49.7 194.6,49.5 194.9,49.2 195.2,49.1 195.5,49.0 195.8,49.1 196.1,49.2 196.4,49.4 196.7,49.6 197.0,49.9 197.3,50.0 197.6,50.2 197.9,50.3 198.2,50.4 198.6,50.4 198.9,50.4 199.2,50.4 199.5,50.3 199.8,50.3 200.1,50.2 200.4,50.2 200.7,50.1 201.0,49.9 201.3,49.8 201.6,49.5 201.9,49.2 202.2,48.8 202.5,48.4 202.8,47.8 203.1,47.0 203.4,46.1 203.7,45.1 204.1,43.9 204.4,42.5 204.7,41.0 205.0,39.4 205.3,37.8 205.6,36.2 205.9,34.7 206.2,33.3 206.5,32.3 206.8,31.6 207.1,31.4 207.4,31.6 207.7,32.3 208.0,33.3 208.3,34.6 208.6,36.1 208.9,37.7 209.3,39.3 209.6,40.9 209.9,42.2 210.2,43.5 210.5,44.4 210.8,45.2 211.1,45.6 211.4,45.9 211.7,46.1 212.0,46.3 212.3,46.7 212.6,47.3 212.9,47.9 213.2,48.6 213.5,49.1 213.8,49.5 214.1,49.9 214.4,50.1 214.8,50.2 215.1,50.3 215.4,50.4 215.7,50.4 216.0,50.5 216.3,50.5 216.6,50.5 216.9,50.6 217.2,50.6 217.5,50.6 217.8,50.6 218.1,50.6 218.4,50.6 218.7,50.7 219.0,50.7 219.3,50.7 219.6,50.7 220.0,50.7 220.3,50.7 220.6,50.7 220.9,50.7 221.2,50.7 221.5,50.7 221.8,50.6 222.1,50.6 222.4,50.6 222.7,50.6 223.0,50.5 223.3,50.5 223.6,50.4 223.9,50.3 224.2,50.1 224.5,49.7 224.8,49.1 225.1,48.2 225.5,46.9 225.8,45.4 226.1,44.0 226.4,43.0 226.7,42.9 227.0,43.5 227.3,44.5 227.6,45.1 227.9,44.9 228.2,43.5 228.5,40.8 228.8,37.4 229.1,34.4 229.4,33.2 229.7,34.6 230.0,37.8 230.3,41.6 230.7,44.9 231.0,47.2 231.3,48.7 231.6,49.5 231.9,50.0 232.2,50.2 232.5,50.3 232.8,50.4 233.1,50.5 233.4,50.5 233.7,50.6 234.0,50.6 234.3,50.6 234.6,50.6 234.9,50.7 235.2,50.7 235.5,50.7 235.8,50.7 236.2,50.7 236.5,50.7 236.8,50.7 237.1,50.7 237.4,50.7 237.7,50.7 238.0,50.7 238.3,50.7 238.6,50.7 238.9,50.7 239.2,50.7 239.5,50.6 239.8,50.6 240.1,50.6 240.4,50.6 240.7,50.6 241.0,50.6 241.4,50.5 241.7,50.5 242.0,50.5 242.3,50.4 242.6,50.4 242.9,50.3 243.2,50.2 243.5,50.1 243.8,50.0 244.1,49.8 244.4,49.6 244.7,49.2 245.0,48.7 245.3,47.9 245.6,46.9 245.9,45.7 246.2,44.0 246.5,42.0 246.9,39.8 247.2,37.3 247.5,34.7 247.8,32.2 248.1,30.2 248.4,28.8 248.7,28.3 249.0,28.8 249.3,30.2 249.6,32.3 249.9,34.7 250.2,37.3 250.5,39.8 250.8,42.0 251.1,44.0 251.4,45.7 251.7,46.9 252.1,47.9 252.4,48.7 252.7,49.2 253.0,49.6 253.3,49.8 253.6,50.0 253.9,50.1 254.2,50.2 254.5,50.3 254.8,50.4 255.1,50.4 255.4,50.5 255.7,50.5 256.0,50.5 256.3,50.6 256.6,50.6 256.9,50.6 257.2,50.6 257.6,50.7 257.9,50.7 258.2,50.7 258.5,50.7 258.8,50.7 259.1,50.7 259.4,50.7 259.7,50.8 260.0,50.8 260.3,50.8 260.6,50.8 260.9,50.8 261.2,50.8 261.5,50.8 261.8,50.8 262.1,50.8 262.4,50.8 262.8,50.8 263.1,50.8 263.4,50.8 263.7,50.8 264.0,50.8 264.3,50.8 264.6,50.8 264.9,50.8 265.2,50.8 265.5,50.8 265.8,50.9 266.1,50.9 266.4,50.9 266.7,50.9 267.0,50.9 267.3,50.9 267.6,50.9 267.9,50.9 268.3,50.9 268.6,50.9 268.9,50.9 269.2,50.9 269.5,50.9 269.8,50.9 270.1,50.9 270.4,50.9 270.7,50.9 271.0,50.9 271.3,50.9 271.6,50.9 271.9,50.9 272.2,50.9 272.5,50.9 272.8,50.9 273.1,50.9 273.5,50.9 273.8,50.9 274.1,50.9 274.4,50.9 274.7,50.9 275.0,50.9 275.3,50.9 275.6,50.9 275.9,50.9 276.2,50.9 276.5,50.9 276.8,50.9 277.1,50.9 277.4,50.9 277.7,50.9 278.0,50.9 278.3,50.9 278.6,50.9 279.0,50.9 279.3,50.9 279.6,50.9 279.9,50.9 280.2,50.9 280.5,50.9 280.8,50.9 281.1,50.9 281.4,50.9 281.7,50.9 282.0,50.9 282.3,50.9 282.6,50.9 282.9,50.9 283.2,50.9 283.5,50.9 283.8,50.9 284.2,50.9 284.5,50.9 284.8,50.9 285.1,50.9 285.4,50.9 285.7,50.9 286.0,50.9 286.3,50.9 286.6,50.9 286.9,50.9 287.2,50.9 287.5,50.9 287.8,50.9 288.1,50.9 288.4,50.9 288.7,50.9 289.0,50.9 289.3,50.9 289.7,50.9 290.0,50.9 290.3,50.9 290.6,50.9 290.9,50.9 291.2,50.9 291.5,50.9 291.8,50.9 292.1,50.9 292.4,50.9 292.7,50.9 293.0,50.9 293.3,50.8 293.6,50.8 293.9,50.8 294.2,50.8 294.5,50.8 294.9,50.8 295.2,50.8 295.5,50.8 295.8,50.8 296.1,50.8 296.4,50.8 296.7,50.8 297.0,50.8 297.3,50.8 297.6,50.8 297.9,50.8 298.2,50.8 298.5,50.8 298.8,50.8 299.1,50.8 299.4,50.8 299.7,50.8 300.0,50.8 300.4,50.8 300.7,50.8 301.0,50.8 301.3,50.8 301.6,50.8 301.9,50.8 302.2,50.8 302.5,50.8 302.8,50.8 303.1,50.8 303.4,50.8 303.7,50.8 304.0,50.8 304.3,50.8 304.6,50.8 304.9,50.8 305.2,50.8 305.6,50.8 305.9,50.8 306.2,50.7 306.5,50.7 306.8,50.7 307.1,50.7 307.4,50.7 307.7,50.7 308.0,50.7 308.3,50.7 308.6,50.7 308.9,50.7 309.2,50.7 309.5,50.7 309.8,50.7 310.1,50.7 310.4,50.7 310.7,50.7 311.1,50.7 311.4,50.7 311.7,50.7 312.0,50.7 312.3,50.7 312.6,50.7 312.9,50.7 313.2,50.7 313.5,50.7 313.8,50.7 314.1,50.7 314.4,50.7 314.7,50.7 315.0,50.7 315.3,50.7 315.6,50.7 315.9,50.7 316.3,50.7 316.6,50.7 316.9,50.7 317.2,50.7 317.5,50.7 317.8,50.7 318.1,50.7 318.4,50.7 318.7,50.6 319.0,50.6 319.3,50.6 319.6,50.6 319.9,50.6 320.2,50.6 320.5,50.6 320.8,50.6 321.1,50.6 321.4,50.6 321.8,50.6 322.1,50.6 322.4,50.6 322.7,50.6 323.0,50.6 323.3,50.6 323.6,50.6 323.9,50.6 324.2,50.6 324.5,50.6 324.8,50.6 325.1,50.6 325.4,50.6 325.7,50.6 326.0,50.6 326.3,50.6 326.6,50.6 327.0,50.6 327.3,50.6 327.6,50.6 327.9,50.6 328.2,50.6 328.5,50.6 328.8,50.6 329.1,50.6 329.4,50.6 329.7,50.6 330.0,50.6 330.3,50.6 330.6,50.6 330.9,50.5 331.2,50.5 331.5,50.5 331.8,50.5 332.1,50.5 332.5,50.5 332.8,50.5 333.1,50.5 333.4,50.5 333.7,50.5 334.0,50.5 334.3,50.5 334.6,50.5 334.9,50.5 335.2,50.5 335.5,50.5 335.8,50.5 336.1,50.5 336.4,50.5 336.7,50.5 337.0,50.5 337.3,50.5 337.7,50.5 338.0,50.5 338.3,50.5 338.6,50.5 338.9,50.5 339.2,50.5 339.5,50.5 339.8,50.5 340.1,50.5 340.4,50.5 340.7,50.5 341.0,50.5 341.3,50.5 341.6,50.5 341.9,50.5 342.2,50.5 342.5,50.5 342.8,50.4 343.2,50.4 343.5,50.4 343.8,50.4 344.1,50.4 344.4,50.4 344.7,50.4 345.0,50.4 345.3,50.4 345.6,50.4 345.9,50.4 346.2,50.4 346.5,50.4 346.8,50.4 347.1,50.4 347.4,50.4 347.7,50.4 348.0,50.4 348.4,50.4 348.7,50.4 349.0,50.4 349.3,50.4 349.6,50.4 349.9,50.4 350.2,50.4 350.5,50.4 350.8,50.4 351.1,50.4 351.4,50.4 351.7,50.4 352.0,50.4 352.3,50.4 352.6,50.4 352.9,50.4 353.2,50.4 353.5,50.3 353.9,50.3 354.2,50.3 354.5,50.3 354.8,50.3 355.1,50.3 355.4,50.3 355.7,50.3 356.0,50.3 356.3,50.3 356.6,50.3 356.9,50.3 357.2,50.3 357.5,50.3 357.8,50.3 358.1,50.3 358.4,50.3 358.7,50.3 359.1,50.3 359.4,50.3 359.7,50.3 360.0,50.3 360.3,50.3 360.6,50.2 360.9,50.2 361.2,50.2 361.5,50.2 361.8,50.2 362.1,50.2 362.4,50.2 362.7,50.2 363.0,50.2 363.3,50.2 363.6,50.2 363.9,50.2 364.2,50.2 364.6,50.2 364.9,50.2 365.2,50.2 365.5,50.2 365.8,50.2 366.1,50.2 366.4,50.2 366.7,50.2 367.0,50.2 367.3,50.2 367.6,50.1 367.9,50.1 368.2,50.1 368.5,50.1 368.8,50.1 369.1,50.1 369.4,50.1 369.8,50.1 370.1,50.1 370.4,50.1 370.7,50.1 371.0,50.1 371.3,50.1 371.6,50.1 371.9,50.1 372.2,50.1 372.5,50.1 372.8,50.1 373.1,50.1 373.4,50.1 373.7,50.0 374.0,50.0 374.3,50.0 374.6,50.0 374.9,50.0 375.3,50.0 375.6,50.0 375.9,50.0 376.2,50.0 376.5,50.0 376.8,50.0 377.1,49.9 377.4,49.9 377.7,49.9 378.0,49.9 378.3,49.9 378.6,49.9 378.9,49.9 379.2,49.9 379.5,49.8 379.8,49.8 380.1,49.8 380.5,49.8 380.8,49.8 381.1,49.8 381.4,49.8 381.7,49.8 382.0,49.8 382.3,49.8 382.6,49.8 382.9,49.8 383.2,49.8 383.5,49.8 383.8,49.9 384.1,49.9 384.4,49.9 384.7,49.9 385.0,49.9 385.3,49.9 385.6,49.9 386.0,49.9 386.3,50.0 386.6,50.0 386.9,50.0 387.2,50.0 387.5,50.0 387.8,50.0 388.1,50.0 388.4,50.0 388.7,50.0 389.0,50.0 389.3,50.0 389.6,50.0 389.9,50.0 390.2,50.0 390.5,50.0 390.8,50.1 391.2,50.1 391.5,50.1 391.8,50.1 392.1,50.1 392.4,50.1 392.7,50.1 393.0,50.1 393.3,50.1 393.6,50.1 393.9,50.0 394.2,50.0 394.5,50.0 394.8,50.0 395.1,50.0 395.4,50.0 395.7,49.9 396.0,49.9 396.3,49.8 396.7,49.7 397.0,49.6 397.3,49.5 397.6,49.4 397.9,49.3 398.2,49.1 398.5,49.0 398.8,48.8 399.1,48.6 399.4,48.4 399.7,48.3 400.0,48.1 400.3,47.9 400.6,47.8 400.9,47.7 401.2,47.7 401.5,47.7 401.9,47.8 402.2,47.8 402.5,48.0 402.8,48.1 403.1,48.3 403.4,48.5 403.7,48.7 404.0,48.8 404.3,49.0 404.6,49.2 404.9,49.3 405.2,49.5 405.5,49.6 405.8,49.7 406.1,49.8 406.4,49.9 406.7,49.9 407.0,50.0 407.4,50.0 407.7,50.1 408.0,50.1 408.3,50.1 408.6,50.1 408.9,50.1 409.2,50.1 409.5,50.1 409.8,50.1 410.1,50.1 410.4,50.1 410.7,50.1 411.0,50.1 411.3,50.1 411.6,50.1 411.9,50.1 412.2,50.1 412.6,50.0 412.9,50.0 413.2,50.0 413.5,49.9 413.8,49.9 414.1,49.8 414.4,49.8 414.7,49.7 415.0,49.7 415.3,49.6 415.6,49.5 415.9,49.4 416.2,49.3 416.5,49.2 416.8,49.0 417.1,48.9 417.4,48.6 417.7,48.3 418.1,47.9 418.4,47.4 418.7,46.8 419.0,46.0 419.3,45.0 419.6,43.7 419.9,42.2 420.2,40.3 420.5,38.2 420.8,35.7 421.1,32.8 421.4,29.8 421.7,26.5 422.0,23.1 422.3,19.8 422.6,16.7 422.9,13.9 423.3,11.8 423.6,10.4 423.9,9.9 424.2,10.4 424.5,11.7 424.8,13.8 425.1,16.6 425.4,19.7 425.7,23.0 426.0,26.3 426.3,29.5 426.6,32.6 426.9,35.4 427.2,37.8 427.5,40.0 427.8,41.8 428.1,43.3 428.4,44.5 428.8,45.5 429.1,46.2 429.4,46.8 429.7,47.2 430.0,47.6 430.3,47.8 430.6,47.9 430.9,48.0 431.2,48.0 431.5,47.9 431.8,47.6 432.1,47.0 432.4,46.0 432.7,44.5 433.0,42.6 433.3,40.5 433.6,38.8 434.0,38.0 434.3,38.5 434.6,39.9 434.9,41.5 435.2,42.8 435.5,43.4 435.8,43.1 436.1,42.0 436.4,40.3 436.7,38.0 437.0,35.5 437.3,33.1 437.6,31.1 437.9,30.0 438.2,30.1 438.5,31.2 438.8,33.3 439.1,35.8 439.5,38.4 439.8,40.9 440.1,43.0 440.4,44.7 440.7,46.1 441.0,47.0 441.3,47.7 441.6,48.1 441.9,48.4 442.2,48.6 442.5,48.7 442.8,48.8 443.1,48.8 443.4,48.8 443.7,48.8 444.0,48.8 444.3,48.7 444.7,48.7 445.0,48.7 445.3,48.7 445.6,48.8 445.9,48.8 446.2,48.9 446.5,49.0 446.8,49.0 447.1,49.0 447.4,49.0 447.7,49.0 448.0,49.0 448.3,49.0 448.6,48.9 448.9,48.9 449.2,48.9 449.5,48.8 449.8,48.8 450.2,48.7 450.5,48.6 450.8,48.5 451.1,48.3 451.4,48.1 451.7,47.7 452.0,47.1 452.3,46.3 452.6,45.2 452.9,43.7 453.2,42.0 453.5,40.0 453.8,37.8 454.1,35.7 454.4,33.8 454.7,32.5 455.0,32.0 455.4,32.5 455.7,33.8 456.0,35.6 456.3,37.7 456.6,39.9 456.9,41.9 457.2,43.6 457.5,45.1 457.8,46.1 458.1,46.9 458.4,47.5 458.7,47.9 459.0,48.1 459.3,48.3 459.6,48.4 459.9,48.5 460.2,48.5 460.5,48.5 460.9,48.6 461.2,48.6 461.5,48.6 461.8,48.6 462.1,48.6 462.4,48.6 462.7,48.6 463.0,48.6 463.3,48.6 463.6,48.6 463.9,48.5 464.2,48.5 464.5,48.5 464.8,48.5 465.1,48.5 465.4,48.5 465.7,48.5 466.1,48.4 466.4,48.4 466.7,48.4 467.0,48.4 467.3,48.4 467.6,48.4 467.9,48.3 468.2,48.3 468.5,48.3 468.8,48.3 469.1,48.3 469.4,48.2 469.7,48.2 470.0,48.2 470.3,48.2 470.6,48.2 470.9,48.1 471.2,48.1 471.6,48.1 471.9,48.1 472.2,48.0 472.5,48.0 472.8,48.0 473.1,48.0 473.4,48.0 473.7,47.9 474.0,47.9"/>
<line x1="30.8" y1="9.5" x2="30.8" y2="337.2" stroke="#111" stroke-width="1.5"/>
<line x1="24.5" y1="9.5" x2="30.8" y2="9.5" stroke="#111" stroke-width="1.5"/>
<line x1="27.6" y1="173.3" x2="30.8" y2="173.3" stroke="#111" stroke-width="1.5"/>
<line x1="24.5" y1="337.2" x2="474.2" y2="337.2" stroke="#111" stroke-width="1.5"/>
<line x1="46.00" y1="337.2" x2="46.00" y2="343.0" stroke="#111" stroke-width="1.5"/>
<line x1="76.57" y1="337.2" x2="76.57" y2="340.0" stroke="#111" stroke-width="1.5"/>
<line x1="107.14" y1="337.2" x2="107.14" y2="343.0" stroke="#111" stroke-width="1.5"/>
<line x1="137.71" y1="337.2" x2="137.71" y2="340.0" stroke="#111" stroke-width="1.5"/>
<line x1="168.29" y1="337.2" x2="168.29" y2="343.0" stroke="#111" stroke-width="1.5"/>
<line x1="198.86" y1="337.2" x2="198.86" y2="340.0" stroke="#111" stroke-width="1.5"/>
<line x1="229.43" y1="337.2" x2="229.43" y2="343.0" stroke="#111" stroke-width="1.5"/>
<line x1="260.00" y1="337.2" x2="260.00" y2="340.0" stroke="#111" stroke-width="1.5"/>
<line x1="290.57" y1="337.2" x2="290.57" y2="343.0" stroke="#111" stroke-width="1.5"/>
<line x1="321.14" y1="337.2" x2="321.14" y2="340.0" stroke="#111" stroke-width="1.5"/>
<line x1="351.71" y1="337.2" x2="351.71" y2="343.0" stroke="#111" stroke-width="1.5"/>
<line x1="382.29" y1="337.2" x2="382.29" y2="340.0" stroke="#111" stroke-width="1.5"/>
<line x1="412.86" y1="337.2" x2="412.86" y2="343.0" stroke="#111" stroke-width="1.5"/>
<line x1="443.43" y1="337.2" x2="443.43" y2="340.0" stroke="#111" stroke-width="1.5"/>
<line x1="474.00" y1="337.2" x2="474.00" y2="343.0" stroke="#111" stroke-width="1.5"/>
<text x="46.00" y="359.4" class="tick">400</text>
<text x="107.14" y="359.4" class="tick">800</text>
<text x="168.29" y="359.4" class="tick">1200</text>
<text x="229.43" y="359.4" class="tick">1600</text>
<text x="290.57" y="359.4" class="tick">2000</text>
<text x="351.71" y="359.4" class="tick">2400</text>
<text x="412.86" y="359.4" class="tick">2800</text>
<text x="474.00" y="359.4" class="tick">3200</text>
<line x1="480.8" y1="11.8" x2="509" y2="11.8" stroke="#B177DE" stroke-width="1.6"/>
<text transform="scale(0.72,1)" x="720.42 729.79 739.17 748.54" y="16.8" style="font-family:'Liberation Serif',serif;font-size:13.8px;fill:#1a1a1a;text-anchor:middle">DINP</text>
<line x1="480.8" y1="26.7" x2="509" y2="26.7" stroke="#37AD6B" stroke-width="1.6"/>
<text transform="scale(0.72,1)" x="720.42 729.79 739.17 748.54" y="31.7" style="font-family:'Liberation Serif',serif;font-size:13.8px;fill:#1a1a1a;text-anchor:middle">DEHP</text>
<line x1="480.8" y1="41.6" x2="509" y2="41.6" stroke="#1A6FDF" stroke-width="1.6"/>
<text transform="scale(0.72,1)" x="720.42 729.79 739.17" y="46.6" style="font-family:'Liberation Serif',serif;font-size:13.8px;fill:#1a1a1a;text-anchor:middle">DBP</text>
<line x1="480.8" y1="56.3" x2="509" y2="56.3" stroke="#F14040" stroke-width="1.6"/>
<text transform="scale(0.72,1)" x="720.42 729.79 739.17" y="61.3" style="font-family:'Liberation Serif',serif;font-size:13.8px;fill:#1a1a1a;text-anchor:middle">DEP</text>
<line x1="480.8" y1="71.1" x2="509" y2="71.1" stroke="#515151" stroke-width="1.6"/>
<text transform="scale(0.72,1)" x="720.42 729.79 739.17" y="76.1" style="font-family:'Liberation Serif',serif;font-size:13.8px;fill:#1a1a1a;text-anchor:middle">DMP</text>
<text transform="scale(0.92,1)" style="font-family:'Liberation Serif',serif;fill:#222;text-anchor:middle;font-size:16px"><tspan x="201.63 210.46 219.28 228.11 236.93 245.76 254.59 263.41 272.24 281.07 289.89 298.72 309.83 316.37 325.20" y="377.8 377.8 377.8 377.8 377.8 377.8 377.8 377.8 377.8 377.8 377.8 377.8 375.6 377.8 377.8">Raman shift (cm</tspan><tspan x="334.02 339.24" y="371.5 371.5" style="font-size:10.5px">-1</tspan><tspan x="345.98" y="375.6">)</tspan></text>
<text transform="translate(18.1,239.8) rotate(-90) scale(0.92,1)" x="0.00 9.02 18.04 27.07 36.09 45.11 54.13 63.15 72.17 81.20 91.85 99.24 108.26 117.28 126.30 135.33" y="0 0 0 0 0 0 0 0 0 0 -2.2 0 0 0 0 -2.2" style="font-family:'Liberation Serif',serif;fill:#222;text-anchor:middle;font-size:16px">Intensity (a.u.)</text>
</svg>
</body></html>
